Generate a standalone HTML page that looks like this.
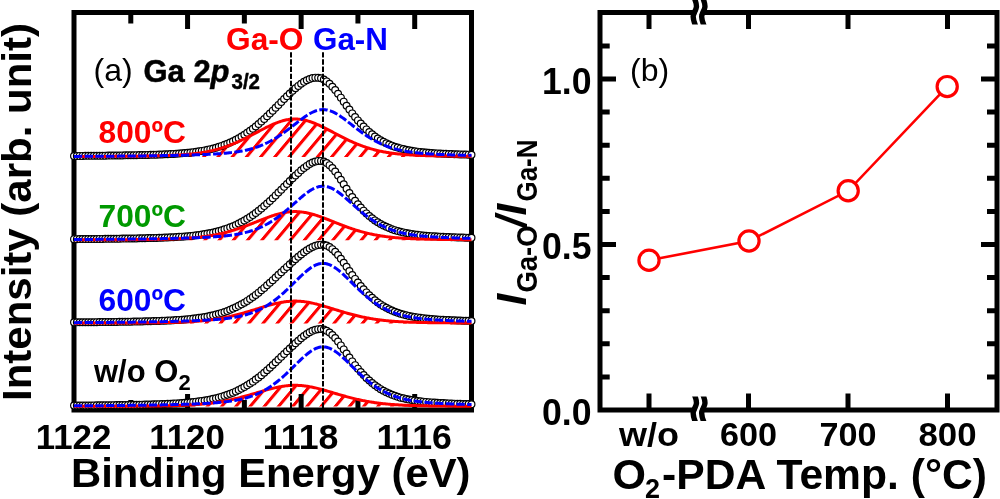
<!DOCTYPE html><html><head><meta charset="utf-8"><style>html,body{margin:0;padding:0;background:#fff;width:1000px;height:499px;overflow:hidden}svg{display:block;will-change:transform}text{font-family:"Liberation Sans",sans-serif}</style></head><body>
<svg width="1000" height="499" viewBox="0 0 1000 499">
<defs><pattern id="hatch" patternUnits="userSpaceOnUse" x="7" width="14.2" height="17" patternTransform="skewX(-40)"><rect x="0" y="0" width="4" height="17" fill="#ff0000"/></pattern></defs>
<rect width="1000" height="499" fill="#fff"/>
<path d="M74 157 L74 156.55 L74.99 156.55 L75.99 156.55 L76.98 156.54 L77.97 156.54 L78.97 156.54 L79.96 156.53 L80.96 156.53 L81.95 156.52 L82.94 156.52 L83.94 156.51 L84.93 156.51 L85.92 156.51 L86.92 156.5 L87.91 156.5 L88.91 156.49 L89.9 156.49 L90.89 156.48 L91.89 156.48 L92.88 156.47 L93.88 156.47 L94.87 156.46 L95.86 156.46 L96.86 156.45 L97.85 156.45 L98.84 156.44 L99.84 156.44 L100.83 156.43 L101.83 156.43 L102.82 156.42 L103.81 156.41 L104.81 156.41 L105.8 156.4 L106.79 156.4 L107.79 156.39 L108.78 156.38 L109.78 156.38 L110.77 156.37 L111.76 156.36 L112.76 156.36 L113.75 156.35 L114.74 156.34 L115.74 156.34 L116.73 156.33 L117.72 156.32 L118.72 156.32 L119.71 156.31 L120.71 156.3 L121.7 156.29 L122.69 156.28 L123.69 156.28 L124.68 156.27 L125.67 156.26 L126.67 156.25 L127.66 156.24 L128.66 156.23 L129.65 156.22 L130.64 156.21 L131.64 156.2 L132.63 156.19 L133.62 156.18 L134.62 156.17 L135.61 156.16 L136.61 156.15 L137.6 156.14 L138.59 156.13 L139.59 156.11 L140.58 156.1 L141.57 156.09 L142.57 156.08 L143.56 156.06 L144.56 156.05 L145.55 156.03 L146.54 156.02 L147.54 156 L148.53 155.99 L149.53 155.97 L150.52 155.95 L151.51 155.93 L152.51 155.91 L153.5 155.89 L154.49 155.87 L155.49 155.85 L156.48 155.83 L157.47 155.81 L158.47 155.78 L159.46 155.76 L160.46 155.73 L161.45 155.71 L162.44 155.68 L163.44 155.65 L164.43 155.62 L165.43 155.59 L166.42 155.55 L167.41 155.52 L168.41 155.48 L169.4 155.45 L170.39 155.41 L171.39 155.36 L172.38 155.32 L173.38 155.28 L174.37 155.23 L175.36 155.18 L176.36 155.13 L177.35 155.07 L178.34 155.01 L179.34 154.96 L180.33 154.89 L181.32 154.83 L182.32 154.76 L183.31 154.69 L184.31 154.61 L185.3 154.54 L186.29 154.46 L187.29 154.37 L188.28 154.28 L189.28 154.19 L190.27 154.09 L191.26 153.99 L192.26 153.89 L193.25 153.78 L194.24 153.66 L195.24 153.54 L196.23 153.42 L197.22 153.29 L198.22 153.15 L199.21 153.01 L200.21 152.87 L201.2 152.72 L202.19 152.56 L203.19 152.39 L204.18 152.22 L205.18 152.05 L206.17 151.86 L207.16 151.67 L208.16 151.48 L209.15 151.27 L210.14 151.06 L211.14 150.84 L212.13 150.61 L213.12 150.38 L214.12 150.14 L215.11 149.89 L216.11 149.63 L217.1 149.36 L218.09 149.09 L219.09 148.81 L220.08 148.52 L221.07 148.22 L222.07 147.91 L223.06 147.59 L224.06 147.27 L225.05 146.93 L226.04 146.59 L227.04 146.24 L228.03 145.88 L229.03 145.51 L230.02 145.13 L231.01 144.75 L232.01 144.35 L233 143.95 L233.99 143.54 L234.99 143.12 L235.98 142.7 L236.97 142.26 L237.97 141.82 L238.96 141.37 L239.96 140.92 L240.95 140.45 L241.94 139.98 L242.94 139.51 L243.93 139.02 L244.93 138.53 L245.92 138.04 L246.91 137.54 L247.91 137.04 L248.9 136.53 L249.89 136.02 L250.89 135.5 L251.88 134.98 L252.88 134.46 L253.87 133.94 L254.86 133.41 L255.86 132.89 L256.85 132.36 L257.84 131.84 L258.84 131.31 L259.83 130.79 L260.82 130.27 L261.82 129.75 L262.81 129.23 L263.81 128.72 L264.8 128.21 L265.79 127.71 L266.79 127.22 L267.78 126.73 L268.77 126.25 L269.77 125.78 L270.76 125.31 L271.76 124.86 L272.75 124.42 L273.74 123.99 L274.74 123.57 L275.73 123.17 L276.73 122.78 L277.72 122.41 L278.71 122.05 L279.71 121.7 L280.7 121.38 L281.69 121.07 L282.69 120.78 L283.68 120.52 L284.68 120.27 L285.67 120.04 L286.66 119.83 L287.66 119.65 L288.65 119.49 L289.64 119.35 L290.64 119.23 L291.63 119.14 L292.62 119.07 L293.62 119.02 L294.61 119 L295.61 119 L296.6 119.03 L297.59 119.08 L298.59 119.16 L299.58 119.25 L300.57 119.38 L301.57 119.52 L302.56 119.69 L303.56 119.88 L304.55 120.09 L305.54 120.32 L306.54 120.57 L307.53 120.85 L308.52 121.14 L309.52 121.45 L310.51 121.78 L311.51 122.12 L312.5 122.49 L313.49 122.86 L314.49 123.26 L315.48 123.66 L316.48 124.08 L317.47 124.52 L318.46 124.96 L319.46 125.41 L320.45 125.88 L321.44 126.35 L322.44 126.83 L323.43 127.32 L324.43 127.82 L325.42 128.32 L326.41 128.83 L327.41 129.34 L328.4 129.86 L329.39 130.38 L330.39 130.9 L331.38 131.43 L332.38 131.95 L333.37 132.48 L334.36 133 L335.36 133.53 L336.35 134.05 L337.34 134.58 L338.34 135.1 L339.33 135.62 L340.32 136.13 L341.32 136.64 L342.31 137.15 L343.31 137.65 L344.3 138.15 L345.29 138.64 L346.29 139.13 L347.28 139.61 L348.27 140.09 L349.27 140.55 L350.26 141.02 L351.26 141.47 L352.25 141.92 L353.24 142.36 L354.24 142.79 L355.23 143.22 L356.23 143.63 L357.22 144.04 L358.21 144.44 L359.21 144.83 L360.2 145.22 L361.19 145.59 L362.19 145.96 L363.18 146.32 L364.18 146.67 L365.17 147.01 L366.16 147.34 L367.16 147.66 L368.15 147.98 L369.14 148.28 L370.14 148.58 L371.13 148.87 L372.12 149.15 L373.12 149.42 L374.11 149.69 L375.11 149.94 L376.1 150.19 L377.09 150.43 L378.09 150.66 L379.08 150.89 L380.07 151.11 L381.07 151.32 L382.06 151.52 L383.06 151.72 L384.05 151.9 L385.04 152.09 L386.04 152.26 L387.03 152.43 L388.02 152.59 L389.02 152.75 L390.01 152.9 L391.01 153.05 L392 153.18 L392.99 153.32 L393.99 153.45 L394.98 153.57 L395.98 153.69 L396.97 153.8 L397.96 153.91 L398.96 154.01 L399.95 154.11 L400.94 154.21 L401.94 154.3 L402.93 154.39 L403.93 154.47 L404.92 154.55 L405.91 154.63 L406.91 154.7 L407.9 154.78 L408.89 154.84 L409.89 154.91 L410.88 154.97 L411.88 155.03 L412.87 155.08 L413.86 155.14 L414.86 155.19 L415.85 155.24 L416.84 155.29 L417.84 155.33 L418.83 155.37 L419.82 155.41 L420.82 155.45 L421.81 155.49 L422.81 155.53 L423.8 155.56 L424.79 155.59 L425.79 155.63 L426.78 155.66 L427.77 155.69 L428.77 155.71 L429.76 155.74 L430.76 155.77 L431.75 155.79 L432.74 155.81 L433.74 155.84 L434.73 155.86 L435.73 155.88 L436.72 155.9 L437.71 155.92 L438.71 155.94 L439.7 155.96 L440.69 155.97 L441.69 155.99 L442.68 156.01 L443.68 156.02 L444.67 156.04 L445.66 156.05 L446.66 156.06 L447.65 156.08 L448.64 156.09 L449.64 156.1 L450.63 156.12 L451.62 156.13 L452.62 156.14 L453.61 156.15 L454.61 156.16 L455.6 156.17 L456.59 156.18 L457.59 156.2 L458.58 156.21 L459.57 156.21 L460.57 156.22 L461.56 156.23 L462.56 156.24 L463.55 156.25 L464.54 156.26 L465.54 156.27 L466.53 156.28 L467.52 156.29 L468.52 156.29 L469.51 156.3 L470.51 156.31 L471.5 156.32 L471.5 157Z" fill="url(#hatch)"/>
<path d="M74 240.2 L74 239.86 L74.99 239.86 L75.99 239.86 L76.98 239.86 L77.97 239.85 L78.97 239.85 L79.96 239.85 L80.96 239.84 L81.95 239.84 L82.94 239.84 L83.94 239.83 L84.93 239.83 L85.92 239.83 L86.92 239.82 L87.91 239.82 L88.91 239.82 L89.9 239.81 L90.89 239.81 L91.89 239.81 L92.88 239.8 L93.88 239.8 L94.87 239.8 L95.86 239.79 L96.86 239.79 L97.85 239.78 L98.84 239.78 L99.84 239.78 L100.83 239.77 L101.83 239.77 L102.82 239.76 L103.81 239.76 L104.81 239.75 L105.8 239.75 L106.79 239.75 L107.79 239.74 L108.78 239.74 L109.78 239.73 L110.77 239.73 L111.76 239.72 L112.76 239.72 L113.75 239.71 L114.74 239.71 L115.74 239.7 L116.73 239.7 L117.72 239.69 L118.72 239.68 L119.71 239.68 L120.71 239.67 L121.7 239.67 L122.69 239.66 L123.69 239.65 L124.68 239.65 L125.67 239.64 L126.67 239.64 L127.66 239.63 L128.66 239.62 L129.65 239.61 L130.64 239.61 L131.64 239.6 L132.63 239.59 L133.62 239.58 L134.62 239.58 L135.61 239.57 L136.61 239.56 L137.6 239.55 L138.59 239.54 L139.59 239.53 L140.58 239.52 L141.57 239.51 L142.57 239.5 L143.56 239.49 L144.56 239.48 L145.55 239.47 L146.54 239.46 L147.54 239.45 L148.53 239.44 L149.53 239.42 L150.52 239.41 L151.51 239.4 L152.51 239.38 L153.5 239.37 L154.49 239.35 L155.49 239.34 L156.48 239.32 L157.47 239.3 L158.47 239.29 L159.46 239.27 L160.46 239.25 L161.45 239.23 L162.44 239.21 L163.44 239.18 L164.43 239.16 L165.43 239.14 L166.42 239.11 L167.41 239.09 L168.41 239.06 L169.4 239.03 L170.39 239 L171.39 238.97 L172.38 238.94 L173.38 238.9 L174.37 238.87 L175.36 238.83 L176.36 238.79 L177.35 238.75 L178.34 238.71 L179.34 238.66 L180.33 238.61 L181.32 238.57 L182.32 238.51 L183.31 238.46 L184.31 238.4 L185.3 238.35 L186.29 238.28 L187.29 238.22 L188.28 238.15 L189.28 238.08 L190.27 238.01 L191.26 237.94 L192.26 237.86 L193.25 237.77 L194.24 237.69 L195.24 237.6 L196.23 237.5 L197.22 237.41 L198.22 237.31 L199.21 237.2 L200.21 237.09 L201.2 236.98 L202.19 236.86 L203.19 236.73 L204.18 236.6 L205.18 236.47 L206.17 236.33 L207.16 236.19 L208.16 236.04 L209.15 235.89 L210.14 235.73 L211.14 235.56 L212.13 235.39 L213.12 235.22 L214.12 235.04 L215.11 234.85 L216.11 234.65 L217.1 234.45 L218.09 234.25 L219.09 234.03 L220.08 233.81 L221.07 233.59 L222.07 233.36 L223.06 233.12 L224.06 232.87 L225.05 232.62 L226.04 232.37 L227.04 232.1 L228.03 231.83 L229.03 231.55 L230.02 231.27 L231.01 230.98 L232.01 230.68 L233 230.38 L233.99 230.07 L234.99 229.76 L235.98 229.44 L236.97 229.11 L237.97 228.78 L238.96 228.44 L239.96 228.09 L240.95 227.75 L241.94 227.39 L242.94 227.03 L243.93 226.67 L244.93 226.3 L245.92 225.93 L246.91 225.55 L247.91 225.18 L248.9 224.79 L249.89 224.41 L250.89 224.02 L251.88 223.63 L252.88 223.24 L253.87 222.84 L254.86 222.45 L255.86 222.05 L256.85 221.66 L257.84 221.26 L258.84 220.87 L259.83 220.47 L260.82 220.08 L261.82 219.69 L262.81 219.3 L263.81 218.92 L264.8 218.53 L265.79 218.16 L266.79 217.78 L267.78 217.42 L268.77 217.05 L269.77 216.7 L270.76 216.35 L271.76 216.01 L272.75 215.68 L273.74 215.36 L274.74 215.04 L275.73 214.74 L276.73 214.44 L277.72 214.16 L278.71 213.89 L279.71 213.64 L280.7 213.39 L281.69 213.16 L282.69 212.94 L283.68 212.74 L284.68 212.55 L285.67 212.38 L286.66 212.23 L287.66 212.09 L288.65 211.97 L289.64 211.86 L290.64 211.77 L291.63 211.7 L292.62 211.65 L293.62 211.62 L294.61 211.6 L295.61 211.6 L296.6 211.62 L297.59 211.66 L298.59 211.72 L299.58 211.79 L300.57 211.88 L301.57 211.99 L302.56 212.12 L303.56 212.26 L304.55 212.42 L305.54 212.59 L306.54 212.78 L307.53 212.99 L308.52 213.21 L309.52 213.44 L310.51 213.69 L311.51 213.95 L312.5 214.22 L313.49 214.51 L314.49 214.8 L315.48 215.11 L316.48 215.43 L317.47 215.75 L318.46 216.09 L319.46 216.43 L320.45 216.78 L321.44 217.13 L322.44 217.5 L323.43 217.87 L324.43 218.24 L325.42 218.62 L326.41 219 L327.41 219.39 L328.4 219.77 L329.39 220.17 L330.39 220.56 L331.38 220.95 L332.38 221.35 L333.37 221.74 L334.36 222.14 L335.36 222.54 L336.35 222.93 L337.34 223.32 L338.34 223.72 L339.33 224.11 L340.32 224.49 L341.32 224.88 L342.31 225.26 L343.31 225.64 L344.3 226.01 L345.29 226.38 L346.29 226.75 L347.28 227.11 L348.27 227.47 L349.27 227.82 L350.26 228.17 L351.26 228.51 L352.25 228.85 L353.24 229.18 L354.24 229.51 L355.23 229.83 L356.23 230.14 L357.22 230.45 L358.21 230.75 L359.21 231.04 L360.2 231.33 L361.19 231.61 L362.19 231.89 L363.18 232.16 L364.18 232.42 L365.17 232.68 L366.16 232.93 L367.16 233.17 L368.15 233.41 L369.14 233.64 L370.14 233.86 L371.13 234.08 L372.12 234.29 L373.12 234.5 L374.11 234.7 L375.11 234.89 L376.1 235.08 L377.09 235.26 L378.09 235.43 L379.08 235.6 L380.07 235.76 L381.07 235.92 L382.06 236.08 L383.06 236.22 L384.05 236.36 L385.04 236.5 L386.04 236.63 L387.03 236.76 L388.02 236.88 L389.02 237 L390.01 237.11 L391.01 237.22 L392 237.33 L392.99 237.43 L393.99 237.53 L394.98 237.62 L395.98 237.71 L396.97 237.79 L397.96 237.87 L398.96 237.95 L399.95 238.03 L400.94 238.1 L401.94 238.17 L402.93 238.24 L403.93 238.3 L404.92 238.36 L405.91 238.42 L406.91 238.47 L407.9 238.53 L408.89 238.58 L409.89 238.62 L410.88 238.67 L411.88 238.72 L412.87 238.76 L413.86 238.8 L414.86 238.84 L415.85 238.87 L416.84 238.91 L417.84 238.94 L418.83 238.98 L419.82 239.01 L420.82 239.04 L421.81 239.06 L422.81 239.09 L423.8 239.12 L424.79 239.14 L425.79 239.17 L426.78 239.19 L427.77 239.21 L428.77 239.23 L429.76 239.25 L430.76 239.27 L431.75 239.29 L432.74 239.31 L433.74 239.32 L434.73 239.34 L435.73 239.36 L436.72 239.37 L437.71 239.39 L438.71 239.4 L439.7 239.41 L440.69 239.43 L441.69 239.44 L442.68 239.45 L443.68 239.46 L444.67 239.47 L445.66 239.49 L446.66 239.5 L447.65 239.51 L448.64 239.52 L449.64 239.53 L450.63 239.54 L451.62 239.54 L452.62 239.55 L453.61 239.56 L454.61 239.57 L455.6 239.58 L456.59 239.59 L457.59 239.59 L458.58 239.6 L459.57 239.61 L460.57 239.62 L461.56 239.62 L462.56 239.63 L463.55 239.64 L464.54 239.64 L465.54 239.65 L466.53 239.66 L467.52 239.66 L468.52 239.67 L469.51 239.67 L470.51 239.68 L471.5 239.69 L471.5 240.2Z" fill="url(#hatch)"/>
<path d="M74 323.4 L74 323.14 L74.99 323.14 L75.99 323.13 L76.98 323.13 L77.97 323.13 L78.97 323.13 L79.96 323.12 L80.96 323.12 L81.95 323.12 L82.94 323.12 L83.94 323.11 L84.93 323.11 L85.92 323.11 L86.92 323.11 L87.91 323.1 L88.91 323.1 L89.9 323.1 L90.89 323.1 L91.89 323.09 L92.88 323.09 L93.88 323.09 L94.87 323.08 L95.86 323.08 L96.86 323.08 L97.85 323.08 L98.84 323.07 L99.84 323.07 L100.83 323.07 L101.83 323.06 L102.82 323.06 L103.81 323.06 L104.81 323.05 L105.8 323.05 L106.79 323.05 L107.79 323.04 L108.78 323.04 L109.78 323.03 L110.77 323.03 L111.76 323.03 L112.76 323.02 L113.75 323.02 L114.74 323.01 L115.74 323.01 L116.73 323.01 L117.72 323 L118.72 323 L119.71 322.99 L120.71 322.99 L121.7 322.98 L122.69 322.98 L123.69 322.97 L124.68 322.97 L125.67 322.96 L126.67 322.96 L127.66 322.95 L128.66 322.95 L129.65 322.94 L130.64 322.94 L131.64 322.93 L132.63 322.93 L133.62 322.92 L134.62 322.91 L135.61 322.91 L136.61 322.9 L137.6 322.89 L138.59 322.89 L139.59 322.88 L140.58 322.87 L141.57 322.87 L142.57 322.86 L143.56 322.85 L144.56 322.84 L145.55 322.83 L146.54 322.82 L147.54 322.81 L148.53 322.8 L149.53 322.79 L150.52 322.78 L151.51 322.77 L152.51 322.76 L153.5 322.75 L154.49 322.74 L155.49 322.73 L156.48 322.71 L157.47 322.7 L158.47 322.69 L159.46 322.67 L160.46 322.66 L161.45 322.64 L162.44 322.62 L163.44 322.61 L164.43 322.59 L165.43 322.57 L166.42 322.55 L167.41 322.53 L168.41 322.51 L169.4 322.49 L170.39 322.46 L171.39 322.44 L172.38 322.41 L173.38 322.39 L174.37 322.36 L175.36 322.33 L176.36 322.3 L177.35 322.27 L178.34 322.23 L179.34 322.2 L180.33 322.16 L181.32 322.13 L182.32 322.09 L183.31 322.04 L184.31 322 L185.3 321.95 L186.29 321.91 L187.29 321.86 L188.28 321.8 L189.28 321.75 L190.27 321.69 L191.26 321.63 L192.26 321.57 L193.25 321.51 L194.24 321.44 L195.24 321.37 L196.23 321.3 L197.22 321.22 L198.22 321.14 L199.21 321.06 L200.21 320.97 L201.2 320.89 L202.19 320.79 L203.19 320.7 L204.18 320.6 L205.18 320.49 L206.17 320.39 L207.16 320.27 L208.16 320.16 L209.15 320.04 L210.14 319.91 L211.14 319.79 L212.13 319.65 L213.12 319.51 L214.12 319.37 L215.11 319.23 L216.11 319.07 L217.1 318.92 L218.09 318.76 L219.09 318.59 L220.08 318.42 L221.07 318.25 L222.07 318.06 L223.06 317.88 L224.06 317.69 L225.05 317.49 L226.04 317.29 L227.04 317.08 L228.03 316.87 L229.03 316.66 L230.02 316.44 L231.01 316.21 L232.01 315.98 L233 315.74 L233.99 315.5 L234.99 315.26 L235.98 315.01 L236.97 314.75 L237.97 314.49 L238.96 314.23 L239.96 313.96 L240.95 313.69 L241.94 313.41 L242.94 313.13 L243.93 312.85 L244.93 312.56 L245.92 312.27 L246.91 311.98 L247.91 311.69 L248.9 311.39 L249.89 311.09 L250.89 310.78 L251.88 310.48 L252.88 310.17 L253.87 309.87 L254.86 309.56 L255.86 309.25 L256.85 308.94 L257.84 308.63 L258.84 308.32 L259.83 308.02 L260.82 307.71 L261.82 307.41 L262.81 307.1 L263.81 306.8 L264.8 306.51 L265.79 306.21 L266.79 305.92 L267.78 305.64 L268.77 305.35 L269.77 305.08 L270.76 304.8 L271.76 304.54 L272.75 304.28 L273.74 304.03 L274.74 303.78 L275.73 303.55 L276.73 303.32 L277.72 303.1 L278.71 302.89 L279.71 302.69 L280.7 302.5 L281.69 302.32 L282.69 302.15 L283.68 301.99 L284.68 301.84 L285.67 301.71 L286.66 301.59 L287.66 301.48 L288.65 301.39 L289.64 301.3 L290.64 301.24 L291.63 301.18 L292.62 301.14 L293.62 301.11 L294.61 301.1 L295.61 301.1 L296.6 301.12 L297.59 301.15 L298.59 301.19 L299.58 301.25 L300.57 301.32 L301.57 301.41 L302.56 301.5 L303.56 301.61 L304.55 301.74 L305.54 301.87 L306.54 302.02 L307.53 302.18 L308.52 302.35 L309.52 302.54 L310.51 302.73 L311.51 302.93 L312.5 303.15 L313.49 303.37 L314.49 303.6 L315.48 303.84 L316.48 304.08 L317.47 304.34 L318.46 304.6 L319.46 304.86 L320.45 305.14 L321.44 305.41 L322.44 305.7 L323.43 305.99 L324.43 306.28 L325.42 306.57 L326.41 306.87 L327.41 307.17 L328.4 307.47 L329.39 307.78 L330.39 308.09 L331.38 308.39 L332.38 308.7 L333.37 309.01 L334.36 309.32 L335.36 309.63 L336.35 309.93 L337.34 310.24 L338.34 310.55 L339.33 310.85 L340.32 311.15 L341.32 311.45 L342.31 311.75 L343.31 312.05 L344.3 312.34 L345.29 312.63 L346.29 312.91 L347.28 313.2 L348.27 313.47 L349.27 313.75 L350.26 314.02 L351.26 314.29 L352.25 314.55 L353.24 314.81 L354.24 315.06 L355.23 315.31 L356.23 315.56 L357.22 315.8 L358.21 316.03 L359.21 316.26 L360.2 316.49 L361.19 316.71 L362.19 316.92 L363.18 317.13 L364.18 317.34 L365.17 317.54 L366.16 317.73 L367.16 317.92 L368.15 318.1 L369.14 318.28 L370.14 318.46 L371.13 318.63 L372.12 318.79 L373.12 318.95 L374.11 319.11 L375.11 319.26 L376.1 319.4 L377.09 319.55 L378.09 319.68 L379.08 319.81 L380.07 319.94 L381.07 320.06 L382.06 320.18 L383.06 320.3 L384.05 320.41 L385.04 320.52 L386.04 320.62 L387.03 320.72 L388.02 320.81 L389.02 320.91 L390.01 320.99 L391.01 321.08 L392 321.16 L392.99 321.24 L393.99 321.31 L394.98 321.39 L395.98 321.46 L396.97 321.52 L397.96 321.59 L398.96 321.65 L399.95 321.71 L400.94 321.76 L401.94 321.82 L402.93 321.87 L403.93 321.92 L404.92 321.96 L405.91 322.01 L406.91 322.05 L407.9 322.09 L408.89 322.13 L409.89 322.17 L410.88 322.21 L411.88 322.24 L412.87 322.28 L413.86 322.31 L414.86 322.34 L415.85 322.37 L416.84 322.39 L417.84 322.42 L418.83 322.45 L419.82 322.47 L420.82 322.49 L421.81 322.51 L422.81 322.54 L423.8 322.56 L424.79 322.58 L425.79 322.59 L426.78 322.61 L427.77 322.63 L428.77 322.64 L429.76 322.66 L430.76 322.68 L431.75 322.69 L432.74 322.7 L433.74 322.72 L434.73 322.73 L435.73 322.74 L436.72 322.75 L437.71 322.77 L438.71 322.78 L439.7 322.79 L440.69 322.8 L441.69 322.81 L442.68 322.82 L443.68 322.83 L444.67 322.83 L445.66 322.84 L446.66 322.85 L447.65 322.86 L448.64 322.87 L449.64 322.87 L450.63 322.88 L451.62 322.89 L452.62 322.9 L453.61 322.9 L454.61 322.91 L455.6 322.92 L456.59 322.92 L457.59 322.93 L458.58 322.93 L459.57 322.94 L460.57 322.94 L461.56 322.95 L462.56 322.96 L463.55 322.96 L464.54 322.97 L465.54 322.97 L466.53 322.98 L467.52 322.98 L468.52 322.99 L469.51 322.99 L470.51 322.99 L471.5 323 L471.5 323.4Z" fill="url(#hatch)"/>
<path d="M74 406.6 L74 406.35 L74.99 406.35 L75.99 406.35 L76.98 406.34 L77.97 406.34 L78.97 406.34 L79.96 406.34 L80.96 406.33 L81.95 406.33 L82.94 406.33 L83.94 406.33 L84.93 406.33 L85.92 406.32 L86.92 406.32 L87.91 406.32 L88.91 406.32 L89.9 406.31 L90.89 406.31 L91.89 406.31 L92.88 406.3 L93.88 406.3 L94.87 406.3 L95.86 406.3 L96.86 406.29 L97.85 406.29 L98.84 406.29 L99.84 406.28 L100.83 406.28 L101.83 406.28 L102.82 406.27 L103.81 406.27 L104.81 406.27 L105.8 406.26 L106.79 406.26 L107.79 406.26 L108.78 406.25 L109.78 406.25 L110.77 406.25 L111.76 406.24 L112.76 406.24 L113.75 406.24 L114.74 406.23 L115.74 406.23 L116.73 406.22 L117.72 406.22 L118.72 406.22 L119.71 406.21 L120.71 406.21 L121.7 406.2 L122.69 406.2 L123.69 406.19 L124.68 406.19 L125.67 406.18 L126.67 406.18 L127.66 406.17 L128.66 406.17 L129.65 406.16 L130.64 406.16 L131.64 406.15 L132.63 406.15 L133.62 406.14 L134.62 406.14 L135.61 406.13 L136.61 406.12 L137.6 406.12 L138.59 406.11 L139.59 406.1 L140.58 406.1 L141.57 406.09 L142.57 406.08 L143.56 406.07 L144.56 406.07 L145.55 406.06 L146.54 406.05 L147.54 406.04 L148.53 406.03 L149.53 406.02 L150.52 406.01 L151.51 406 L152.51 405.99 L153.5 405.98 L154.49 405.97 L155.49 405.96 L156.48 405.94 L157.47 405.93 L158.47 405.92 L159.46 405.91 L160.46 405.89 L161.45 405.88 L162.44 405.86 L163.44 405.84 L164.43 405.83 L165.43 405.81 L166.42 405.79 L167.41 405.77 L168.41 405.75 L169.4 405.73 L170.39 405.71 L171.39 405.68 L172.38 405.66 L173.38 405.63 L174.37 405.61 L175.36 405.58 L176.36 405.55 L177.35 405.52 L178.34 405.49 L179.34 405.45 L180.33 405.42 L181.32 405.38 L182.32 405.34 L183.31 405.3 L184.31 405.26 L185.3 405.22 L186.29 405.17 L187.29 405.13 L188.28 405.08 L189.28 405.02 L190.27 404.97 L191.26 404.91 L192.26 404.85 L193.25 404.79 L194.24 404.73 L195.24 404.66 L196.23 404.59 L197.22 404.52 L198.22 404.44 L199.21 404.37 L200.21 404.28 L201.2 404.2 L202.19 404.11 L203.19 404.02 L204.18 403.92 L205.18 403.82 L206.17 403.72 L207.16 403.61 L208.16 403.5 L209.15 403.39 L210.14 403.27 L211.14 403.15 L212.13 403.02 L213.12 402.89 L214.12 402.75 L215.11 402.61 L216.11 402.47 L217.1 402.32 L218.09 402.17 L219.09 402.01 L220.08 401.84 L221.07 401.68 L222.07 401.5 L223.06 401.33 L224.06 401.14 L225.05 400.96 L226.04 400.76 L227.04 400.57 L228.03 400.37 L229.03 400.16 L230.02 399.95 L231.01 399.73 L232.01 399.51 L233 399.29 L233.99 399.06 L234.99 398.82 L235.98 398.58 L236.97 398.34 L237.97 398.09 L238.96 397.84 L239.96 397.58 L240.95 397.32 L241.94 397.06 L242.94 396.79 L243.93 396.52 L244.93 396.25 L245.92 395.97 L246.91 395.69 L247.91 395.41 L248.9 395.13 L249.89 394.84 L250.89 394.55 L251.88 394.26 L252.88 393.97 L253.87 393.67 L254.86 393.38 L255.86 393.08 L256.85 392.79 L257.84 392.5 L258.84 392.2 L259.83 391.91 L260.82 391.61 L261.82 391.32 L262.81 391.03 L263.81 390.75 L264.8 390.46 L265.79 390.18 L266.79 389.91 L267.78 389.63 L268.77 389.36 L269.77 389.1 L270.76 388.84 L271.76 388.59 L272.75 388.34 L273.74 388.1 L274.74 387.86 L275.73 387.64 L276.73 387.42 L277.72 387.21 L278.71 387.01 L279.71 386.82 L280.7 386.63 L281.69 386.46 L282.69 386.3 L283.68 386.15 L284.68 386.01 L285.67 385.88 L286.66 385.77 L287.66 385.66 L288.65 385.57 L289.64 385.49 L290.64 385.43 L291.63 385.38 L292.62 385.34 L293.62 385.31 L294.61 385.3 L295.61 385.3 L296.6 385.32 L297.59 385.35 L298.59 385.39 L299.58 385.44 L300.57 385.51 L301.57 385.59 L302.56 385.69 L303.56 385.79 L304.55 385.91 L305.54 386.04 L306.54 386.18 L307.53 386.33 L308.52 386.5 L309.52 386.67 L310.51 386.86 L311.51 387.05 L312.5 387.25 L313.49 387.47 L314.49 387.69 L315.48 387.91 L316.48 388.15 L317.47 388.39 L318.46 388.64 L319.46 388.9 L320.45 389.16 L321.44 389.42 L322.44 389.69 L323.43 389.97 L324.43 390.24 L325.42 390.53 L326.41 390.81 L327.41 391.1 L328.4 391.39 L329.39 391.68 L330.39 391.97 L331.38 392.27 L332.38 392.56 L333.37 392.86 L334.36 393.15 L335.36 393.44 L336.35 393.74 L337.34 394.03 L338.34 394.32 L339.33 394.61 L340.32 394.9 L341.32 395.19 L342.31 395.47 L343.31 395.75 L344.3 396.03 L345.29 396.31 L346.29 396.58 L347.28 396.85 L348.27 397.12 L349.27 397.38 L350.26 397.64 L351.26 397.9 L352.25 398.15 L353.24 398.39 L354.24 398.64 L355.23 398.87 L356.23 399.11 L357.22 399.34 L358.21 399.56 L359.21 399.78 L360.2 400 L361.19 400.21 L362.19 400.41 L363.18 400.61 L364.18 400.81 L365.17 401 L366.16 401.18 L367.16 401.37 L368.15 401.54 L369.14 401.71 L370.14 401.88 L371.13 402.04 L372.12 402.2 L373.12 402.35 L374.11 402.5 L375.11 402.64 L376.1 402.78 L377.09 402.92 L378.09 403.05 L379.08 403.17 L380.07 403.3 L381.07 403.41 L382.06 403.53 L383.06 403.64 L384.05 403.74 L385.04 403.85 L386.04 403.94 L387.03 404.04 L388.02 404.13 L389.02 404.22 L390.01 404.3 L391.01 404.38 L392 404.46 L392.99 404.54 L393.99 404.61 L394.98 404.68 L395.98 404.74 L396.97 404.81 L397.96 404.87 L398.96 404.93 L399.95 404.98 L400.94 405.04 L401.94 405.09 L402.93 405.14 L403.93 405.18 L404.92 405.23 L405.91 405.27 L406.91 405.31 L407.9 405.35 L408.89 405.39 L409.89 405.43 L410.88 405.46 L411.88 405.49 L412.87 405.53 L413.86 405.56 L414.86 405.58 L415.85 405.61 L416.84 405.64 L417.84 405.66 L418.83 405.69 L419.82 405.71 L420.82 405.73 L421.81 405.75 L422.81 405.77 L423.8 405.79 L424.79 405.81 L425.79 405.83 L426.78 405.85 L427.77 405.86 L428.77 405.88 L429.76 405.89 L430.76 405.91 L431.75 405.92 L432.74 405.94 L433.74 405.95 L434.73 405.96 L435.73 405.97 L436.72 405.98 L437.71 405.99 L438.71 406 L439.7 406.01 L440.69 406.02 L441.69 406.03 L442.68 406.04 L443.68 406.05 L444.67 406.06 L445.66 406.07 L446.66 406.08 L447.65 406.08 L448.64 406.09 L449.64 406.1 L450.63 406.11 L451.62 406.11 L452.62 406.12 L453.61 406.12 L454.61 406.13 L455.6 406.14 L456.59 406.14 L457.59 406.15 L458.58 406.15 L459.57 406.16 L460.57 406.17 L461.56 406.17 L462.56 406.18 L463.55 406.18 L464.54 406.19 L465.54 406.19 L466.53 406.19 L467.52 406.2 L468.52 406.2 L469.51 406.21 L470.51 406.21 L471.5 406.22 L471.5 406.6Z" fill="url(#hatch)"/>
<g stroke="#000" stroke-width="5" fill="none" stroke-linecap="square">
<path d="M74 12.5H471.5V410H74Z"/>
</g>
<g stroke="#000" stroke-width="5">
<path d="M187.57 15V29M187.57 408V394"/>
<path d="M301.14 15V29M301.14 408V394"/>
<path d="M414.71 15V29M414.71 408V394"/>
<path d="M130.79 15V23.5M130.79 408V400"/>
<path d="M244.36 15V23.5M244.36 408V400"/>
<path d="M357.93 15V23.5M357.93 408V400"/>
</g>
<g fill="#fff" stroke="#000" stroke-width="1.2"><circle cx="74" cy="155.96" r="3.4"/><circle cx="76.84" cy="155.94" r="3.4"/><circle cx="79.68" cy="155.92" r="3.4"/><circle cx="82.52" cy="155.89" r="3.4"/><circle cx="85.36" cy="155.86" r="3.4"/><circle cx="88.2" cy="155.84" r="3.4"/><circle cx="91.04" cy="155.81" r="3.4"/><circle cx="93.88" cy="155.78" r="3.4"/><circle cx="96.71" cy="155.75" r="3.4"/><circle cx="99.55" cy="155.72" r="3.4"/><circle cx="102.39" cy="155.69" r="3.4"/><circle cx="105.23" cy="155.65" r="3.4"/><circle cx="108.07" cy="155.62" r="3.4"/><circle cx="110.91" cy="155.58" r="3.4"/><circle cx="113.75" cy="155.54" r="3.4"/><circle cx="116.59" cy="155.5" r="3.4"/><circle cx="119.43" cy="155.46" r="3.4"/><circle cx="122.27" cy="155.42" r="3.4"/><circle cx="125.11" cy="155.37" r="3.4"/><circle cx="127.95" cy="155.32" r="3.4"/><circle cx="130.79" cy="155.27" r="3.4"/><circle cx="133.62" cy="155.22" r="3.4"/><circle cx="136.46" cy="155.16" r="3.4"/><circle cx="139.3" cy="155.1" r="3.4"/><circle cx="142.14" cy="155.04" r="3.4"/><circle cx="144.98" cy="154.97" r="3.4"/><circle cx="147.82" cy="154.9" r="3.4"/><circle cx="150.66" cy="154.82" r="3.4"/><circle cx="153.5" cy="154.73" r="3.4"/><circle cx="156.34" cy="154.64" r="3.4"/><circle cx="159.18" cy="154.54" r="3.4"/><circle cx="162.02" cy="154.43" r="3.4"/><circle cx="164.86" cy="154.32" r="3.4"/><circle cx="167.7" cy="154.19" r="3.4"/><circle cx="170.54" cy="154.04" r="3.4"/><circle cx="173.38" cy="153.88" r="3.4"/><circle cx="176.21" cy="153.71" r="3.4"/><circle cx="179.05" cy="153.51" r="3.4"/><circle cx="181.89" cy="153.3" r="3.4"/><circle cx="184.73" cy="153.06" r="3.4"/><circle cx="187.57" cy="152.79" r="3.4"/><circle cx="190.41" cy="152.49" r="3.4"/><circle cx="193.25" cy="152.15" r="3.4"/><circle cx="196.09" cy="151.78" r="3.4"/><circle cx="198.93" cy="151.36" r="3.4"/><circle cx="201.77" cy="150.89" r="3.4"/><circle cx="204.61" cy="150.38" r="3.4"/><circle cx="207.45" cy="149.8" r="3.4"/><circle cx="210.29" cy="149.17" r="3.4"/><circle cx="213.12" cy="148.46" r="3.4"/><circle cx="215.96" cy="147.69" r="3.4"/><circle cx="218.8" cy="146.83" r="3.4"/><circle cx="221.64" cy="145.89" r="3.4"/><circle cx="224.48" cy="144.86" r="3.4"/><circle cx="227.32" cy="143.74" r="3.4"/><circle cx="230.16" cy="142.52" r="3.4"/><circle cx="233" cy="141.19" r="3.4"/><circle cx="235.84" cy="139.76" r="3.4"/><circle cx="238.68" cy="138.21" r="3.4"/><circle cx="241.52" cy="136.55" r="3.4"/><circle cx="244.36" cy="134.77" r="3.4"/><circle cx="247.2" cy="132.86" r="3.4"/><circle cx="250.04" cy="130.84" r="3.4"/><circle cx="252.88" cy="128.69" r="3.4"/><circle cx="255.71" cy="126.43" r="3.4"/><circle cx="258.55" cy="124.04" r="3.4"/><circle cx="261.39" cy="121.55" r="3.4"/><circle cx="264.23" cy="118.95" r="3.4"/><circle cx="267.07" cy="116.26" r="3.4"/><circle cx="269.91" cy="113.49" r="3.4"/><circle cx="272.75" cy="110.66" r="3.4"/><circle cx="275.59" cy="107.78" r="3.4"/><circle cx="278.43" cy="104.88" r="3.4"/><circle cx="281.27" cy="101.98" r="3.4"/><circle cx="284.11" cy="99.09" r="3.4"/><circle cx="286.95" cy="96.24" r="3.4"/><circle cx="289.79" cy="93.47" r="3.4"/><circle cx="292.62" cy="90.81" r="3.4"/><circle cx="295.46" cy="88.27" r="3.4"/><circle cx="298.3" cy="85.91" r="3.4"/><circle cx="301.14" cy="83.75" r="3.4"/><circle cx="303.98" cy="81.85" r="3.4"/><circle cx="306.82" cy="80.23" r="3.4"/><circle cx="309.66" cy="78.96" r="3.4"/><circle cx="312.5" cy="78.08" r="3.4"/><circle cx="315.34" cy="77.65" r="3.4"/><circle cx="318.18" cy="77.72" r="3.4"/><circle cx="321.02" cy="78.34" r="3.4"/><circle cx="323.86" cy="79.56" r="3.4"/><circle cx="326.7" cy="81.38" r="3.4"/><circle cx="329.54" cy="83.78" r="3.4"/><circle cx="332.38" cy="86.71" r="3.4"/><circle cx="335.21" cy="90.07" r="3.4"/><circle cx="338.05" cy="93.75" r="3.4"/><circle cx="340.89" cy="97.65" r="3.4"/><circle cx="343.73" cy="101.66" r="3.4"/><circle cx="346.57" cy="105.68" r="3.4"/><circle cx="349.41" cy="109.62" r="3.4"/><circle cx="352.25" cy="113.42" r="3.4"/><circle cx="355.09" cy="117.02" r="3.4"/><circle cx="357.93" cy="120.42" r="3.4"/><circle cx="360.77" cy="123.62" r="3.4"/><circle cx="363.61" cy="126.62" r="3.4"/><circle cx="366.45" cy="129.4" r="3.4"/><circle cx="369.29" cy="131.96" r="3.4"/><circle cx="372.12" cy="134.32" r="3.4"/><circle cx="374.96" cy="136.47" r="3.4"/><circle cx="377.8" cy="138.43" r="3.4"/><circle cx="380.64" cy="140.2" r="3.4"/><circle cx="383.48" cy="141.8" r="3.4"/><circle cx="386.32" cy="143.24" r="3.4"/><circle cx="389.16" cy="144.52" r="3.4"/><circle cx="392" cy="145.67" r="3.4"/><circle cx="394.84" cy="146.69" r="3.4"/><circle cx="397.68" cy="147.6" r="3.4"/><circle cx="400.52" cy="148.41" r="3.4"/><circle cx="403.36" cy="149.12" r="3.4"/><circle cx="406.2" cy="149.75" r="3.4"/><circle cx="409.04" cy="150.31" r="3.4"/><circle cx="411.88" cy="150.81" r="3.4"/><circle cx="414.71" cy="151.25" r="3.4"/><circle cx="417.55" cy="151.63" r="3.4"/><circle cx="420.39" cy="151.98" r="3.4"/><circle cx="423.23" cy="152.29" r="3.4"/><circle cx="426.07" cy="152.56" r="3.4"/><circle cx="428.91" cy="152.8" r="3.4"/><circle cx="431.75" cy="153.02" r="3.4"/><circle cx="434.59" cy="153.22" r="3.4"/><circle cx="437.43" cy="153.4" r="3.4"/><circle cx="440.27" cy="153.56" r="3.4"/><circle cx="443.11" cy="153.71" r="3.4"/><circle cx="445.95" cy="153.85" r="3.4"/><circle cx="448.79" cy="153.97" r="3.4"/><circle cx="451.62" cy="154.09" r="3.4"/><circle cx="454.46" cy="154.2" r="3.4"/><circle cx="457.3" cy="154.3" r="3.4"/><circle cx="460.14" cy="154.4" r="3.4"/><circle cx="462.98" cy="154.49" r="3.4"/><circle cx="465.82" cy="154.57" r="3.4"/><circle cx="468.66" cy="154.65" r="3.4"/><circle cx="471.5" cy="154.73" r="3.4"/></g>
<path d="M74 156.55 L74.99 156.55 L75.99 156.55 L76.98 156.54 L77.97 156.54 L78.97 156.54 L79.96 156.53 L80.96 156.53 L81.95 156.52 L82.94 156.52 L83.94 156.51 L84.93 156.51 L85.92 156.51 L86.92 156.5 L87.91 156.5 L88.91 156.49 L89.9 156.49 L90.89 156.48 L91.89 156.48 L92.88 156.47 L93.88 156.47 L94.87 156.46 L95.86 156.46 L96.86 156.45 L97.85 156.45 L98.84 156.44 L99.84 156.44 L100.83 156.43 L101.83 156.43 L102.82 156.42 L103.81 156.41 L104.81 156.41 L105.8 156.4 L106.79 156.4 L107.79 156.39 L108.78 156.38 L109.78 156.38 L110.77 156.37 L111.76 156.36 L112.76 156.36 L113.75 156.35 L114.74 156.34 L115.74 156.34 L116.73 156.33 L117.72 156.32 L118.72 156.32 L119.71 156.31 L120.71 156.3 L121.7 156.29 L122.69 156.28 L123.69 156.28 L124.68 156.27 L125.67 156.26 L126.67 156.25 L127.66 156.24 L128.66 156.23 L129.65 156.22 L130.64 156.21 L131.64 156.2 L132.63 156.19 L133.62 156.18 L134.62 156.17 L135.61 156.16 L136.61 156.15 L137.6 156.14 L138.59 156.13 L139.59 156.11 L140.58 156.1 L141.57 156.09 L142.57 156.08 L143.56 156.06 L144.56 156.05 L145.55 156.03 L146.54 156.02 L147.54 156 L148.53 155.99 L149.53 155.97 L150.52 155.95 L151.51 155.93 L152.51 155.91 L153.5 155.89 L154.49 155.87 L155.49 155.85 L156.48 155.83 L157.47 155.81 L158.47 155.78 L159.46 155.76 L160.46 155.73 L161.45 155.71 L162.44 155.68 L163.44 155.65 L164.43 155.62 L165.43 155.59 L166.42 155.55 L167.41 155.52 L168.41 155.48 L169.4 155.45 L170.39 155.41 L171.39 155.36 L172.38 155.32 L173.38 155.28 L174.37 155.23 L175.36 155.18 L176.36 155.13 L177.35 155.07 L178.34 155.01 L179.34 154.96 L180.33 154.89 L181.32 154.83 L182.32 154.76 L183.31 154.69 L184.31 154.61 L185.3 154.54 L186.29 154.46 L187.29 154.37 L188.28 154.28 L189.28 154.19 L190.27 154.09 L191.26 153.99 L192.26 153.89 L193.25 153.78 L194.24 153.66 L195.24 153.54 L196.23 153.42 L197.22 153.29 L198.22 153.15 L199.21 153.01 L200.21 152.87 L201.2 152.72 L202.19 152.56 L203.19 152.39 L204.18 152.22 L205.18 152.05 L206.17 151.86 L207.16 151.67 L208.16 151.48 L209.15 151.27 L210.14 151.06 L211.14 150.84 L212.13 150.61 L213.12 150.38 L214.12 150.14 L215.11 149.89 L216.11 149.63 L217.1 149.36 L218.09 149.09 L219.09 148.81 L220.08 148.52 L221.07 148.22 L222.07 147.91 L223.06 147.59 L224.06 147.27 L225.05 146.93 L226.04 146.59 L227.04 146.24 L228.03 145.88 L229.03 145.51 L230.02 145.13 L231.01 144.75 L232.01 144.35 L233 143.95 L233.99 143.54 L234.99 143.12 L235.98 142.7 L236.97 142.26 L237.97 141.82 L238.96 141.37 L239.96 140.92 L240.95 140.45 L241.94 139.98 L242.94 139.51 L243.93 139.02 L244.93 138.53 L245.92 138.04 L246.91 137.54 L247.91 137.04 L248.9 136.53 L249.89 136.02 L250.89 135.5 L251.88 134.98 L252.88 134.46 L253.87 133.94 L254.86 133.41 L255.86 132.89 L256.85 132.36 L257.84 131.84 L258.84 131.31 L259.83 130.79 L260.82 130.27 L261.82 129.75 L262.81 129.23 L263.81 128.72 L264.8 128.21 L265.79 127.71 L266.79 127.22 L267.78 126.73 L268.77 126.25 L269.77 125.78 L270.76 125.31 L271.76 124.86 L272.75 124.42 L273.74 123.99 L274.74 123.57 L275.73 123.17 L276.73 122.78 L277.72 122.41 L278.71 122.05 L279.71 121.7 L280.7 121.38 L281.69 121.07 L282.69 120.78 L283.68 120.52 L284.68 120.27 L285.67 120.04 L286.66 119.83 L287.66 119.65 L288.65 119.49 L289.64 119.35 L290.64 119.23 L291.63 119.14 L292.62 119.07 L293.62 119.02 L294.61 119 L295.61 119 L296.6 119.03 L297.59 119.08 L298.59 119.16 L299.58 119.25 L300.57 119.38 L301.57 119.52 L302.56 119.69 L303.56 119.88 L304.55 120.09 L305.54 120.32 L306.54 120.57 L307.53 120.85 L308.52 121.14 L309.52 121.45 L310.51 121.78 L311.51 122.12 L312.5 122.49 L313.49 122.86 L314.49 123.26 L315.48 123.66 L316.48 124.08 L317.47 124.52 L318.46 124.96 L319.46 125.41 L320.45 125.88 L321.44 126.35 L322.44 126.83 L323.43 127.32 L324.43 127.82 L325.42 128.32 L326.41 128.83 L327.41 129.34 L328.4 129.86 L329.39 130.38 L330.39 130.9 L331.38 131.43 L332.38 131.95 L333.37 132.48 L334.36 133 L335.36 133.53 L336.35 134.05 L337.34 134.58 L338.34 135.1 L339.33 135.62 L340.32 136.13 L341.32 136.64 L342.31 137.15 L343.31 137.65 L344.3 138.15 L345.29 138.64 L346.29 139.13 L347.28 139.61 L348.27 140.09 L349.27 140.55 L350.26 141.02 L351.26 141.47 L352.25 141.92 L353.24 142.36 L354.24 142.79 L355.23 143.22 L356.23 143.63 L357.22 144.04 L358.21 144.44 L359.21 144.83 L360.2 145.22 L361.19 145.59 L362.19 145.96 L363.18 146.32 L364.18 146.67 L365.17 147.01 L366.16 147.34 L367.16 147.66 L368.15 147.98 L369.14 148.28 L370.14 148.58 L371.13 148.87 L372.12 149.15 L373.12 149.42 L374.11 149.69 L375.11 149.94 L376.1 150.19 L377.09 150.43 L378.09 150.66 L379.08 150.89 L380.07 151.11 L381.07 151.32 L382.06 151.52 L383.06 151.72 L384.05 151.9 L385.04 152.09 L386.04 152.26 L387.03 152.43 L388.02 152.59 L389.02 152.75 L390.01 152.9 L391.01 153.05 L392 153.18 L392.99 153.32 L393.99 153.45 L394.98 153.57 L395.98 153.69 L396.97 153.8 L397.96 153.91 L398.96 154.01 L399.95 154.11 L400.94 154.21 L401.94 154.3 L402.93 154.39 L403.93 154.47 L404.92 154.55 L405.91 154.63 L406.91 154.7 L407.9 154.78 L408.89 154.84 L409.89 154.91 L410.88 154.97 L411.88 155.03 L412.87 155.08 L413.86 155.14 L414.86 155.19 L415.85 155.24 L416.84 155.29 L417.84 155.33 L418.83 155.37 L419.82 155.41 L420.82 155.45 L421.81 155.49 L422.81 155.53 L423.8 155.56 L424.79 155.59 L425.79 155.63 L426.78 155.66 L427.77 155.69 L428.77 155.71 L429.76 155.74 L430.76 155.77 L431.75 155.79 L432.74 155.81 L433.74 155.84 L434.73 155.86 L435.73 155.88 L436.72 155.9 L437.71 155.92 L438.71 155.94 L439.7 155.96 L440.69 155.97 L441.69 155.99 L442.68 156.01 L443.68 156.02 L444.67 156.04 L445.66 156.05 L446.66 156.06 L447.65 156.08 L448.64 156.09 L449.64 156.1 L450.63 156.12 L451.62 156.13 L452.62 156.14 L453.61 156.15 L454.61 156.16 L455.6 156.17 L456.59 156.18 L457.59 156.2 L458.58 156.21 L459.57 156.21 L460.57 156.22 L461.56 156.23 L462.56 156.24 L463.55 156.25 L464.54 156.26 L465.54 156.27 L466.53 156.28 L467.52 156.29 L468.52 156.29 L469.51 156.3 L470.51 156.31 L471.5 156.32" fill="none" stroke="#ff0000" stroke-width="3"/>
<path d="M74 156.4 L74.99 156.4 L75.99 156.39 L76.98 156.39 L77.97 156.38 L78.97 156.38 L79.96 156.37 L80.96 156.37 L81.95 156.36 L82.94 156.36 L83.94 156.35 L84.93 156.35 L85.92 156.34 L86.92 156.34 L87.91 156.33 L88.91 156.33 L89.9 156.32 L90.89 156.32 L91.89 156.31 L92.88 156.3 L93.88 156.3 L94.87 156.29 L95.86 156.29 L96.86 156.28 L97.85 156.27 L98.84 156.27 L99.84 156.26 L100.83 156.26 L101.83 156.25 L102.82 156.24 L103.81 156.24 L104.81 156.23 L105.8 156.22 L106.79 156.22 L107.79 156.21 L108.78 156.2 L109.78 156.19 L110.77 156.19 L111.76 156.18 L112.76 156.17 L113.75 156.16 L114.74 156.16 L115.74 156.15 L116.73 156.14 L117.72 156.13 L118.72 156.12 L119.71 156.12 L120.71 156.11 L121.7 156.1 L122.69 156.09 L123.69 156.08 L124.68 156.07 L125.67 156.06 L126.67 156.06 L127.66 156.05 L128.66 156.04 L129.65 156.03 L130.64 156.02 L131.64 156.01 L132.63 156 L133.62 155.99 L134.62 155.98 L135.61 155.97 L136.61 155.96 L137.6 155.95 L138.59 155.93 L139.59 155.92 L140.58 155.91 L141.57 155.9 L142.57 155.89 L143.56 155.88 L144.56 155.87 L145.55 155.85 L146.54 155.84 L147.54 155.83 L148.53 155.82 L149.53 155.8 L150.52 155.79 L151.51 155.78 L152.51 155.76 L153.5 155.75 L154.49 155.74 L155.49 155.72 L156.48 155.71 L157.47 155.69 L158.47 155.68 L159.46 155.66 L160.46 155.65 L161.45 155.63 L162.44 155.61 L163.44 155.6 L164.43 155.58 L165.43 155.56 L166.42 155.55 L167.41 155.53 L168.41 155.51 L169.4 155.49 L170.39 155.48 L171.39 155.46 L172.38 155.44 L173.38 155.42 L174.37 155.4 L175.36 155.38 L176.36 155.36 L177.35 155.34 L178.34 155.31 L179.34 155.29 L180.33 155.27 L181.32 155.25 L182.32 155.22 L183.31 155.2 L184.31 155.17 L185.3 155.15 L186.29 155.12 L187.29 155.1 L188.28 155.07 L189.28 155.04 L190.27 155.02 L191.26 154.99 L192.26 154.96 L193.25 154.93 L194.24 154.9 L195.24 154.86 L196.23 154.83 L197.22 154.8 L198.22 154.76 L199.21 154.73 L200.21 154.69 L201.2 154.65 L202.19 154.62 L203.19 154.58 L204.18 154.54 L205.18 154.49 L206.17 154.45 L207.16 154.4 L208.16 154.36 L209.15 154.31 L210.14 154.26 L211.14 154.21 L212.13 154.15 L213.12 154.1 L214.12 154.04 L215.11 153.98 L216.11 153.92 L217.1 153.86 L218.09 153.79 L219.09 153.72 L220.08 153.65 L221.07 153.57 L222.07 153.5 L223.06 153.41 L224.06 153.33 L225.05 153.24 L226.04 153.15 L227.04 153.05 L228.03 152.95 L229.03 152.85 L230.02 152.74 L231.01 152.62 L232.01 152.51 L233 152.38 L233.99 152.25 L234.99 152.12 L235.98 151.97 L236.97 151.83 L237.97 151.67 L238.96 151.51 L239.96 151.34 L240.95 151.17 L241.94 150.98 L242.94 150.79 L243.93 150.59 L244.93 150.38 L245.92 150.17 L246.91 149.94 L247.91 149.7 L248.9 149.46 L249.89 149.2 L250.89 148.93 L251.88 148.66 L252.88 148.37 L253.87 148.07 L254.86 147.75 L255.86 147.43 L256.85 147.09 L257.84 146.75 L258.84 146.38 L259.83 146.01 L260.82 145.62 L261.82 145.22 L262.81 144.81 L263.81 144.38 L264.8 143.93 L265.79 143.48 L266.79 143 L267.78 142.52 L268.77 142.02 L269.77 141.5 L270.76 140.97 L271.76 140.43 L272.75 139.87 L273.74 139.3 L274.74 138.71 L275.73 138.11 L276.73 137.49 L277.72 136.86 L278.71 136.22 L279.71 135.56 L280.7 134.89 L281.69 134.21 L282.69 133.52 L283.68 132.82 L284.68 132.1 L285.67 131.37 L286.66 130.64 L287.66 129.9 L288.65 129.14 L289.64 128.39 L290.64 127.62 L291.63 126.85 L292.62 126.08 L293.62 125.3 L294.61 124.52 L295.61 123.74 L296.6 122.97 L297.59 122.19 L298.59 121.42 L299.58 120.66 L300.57 119.91 L301.57 119.16 L302.56 118.43 L303.56 117.71 L304.55 117.01 L305.54 116.32 L306.54 115.66 L307.53 115.02 L308.52 114.4 L309.52 113.81 L310.51 113.25 L311.51 112.73 L312.5 112.23 L313.49 111.78 L314.49 111.36 L315.48 110.98 L316.48 110.65 L317.47 110.36 L318.46 110.11 L319.46 109.91 L320.45 109.76 L321.44 109.66 L322.44 109.61 L323.43 109.6 L324.43 109.65 L325.42 109.75 L326.41 109.89 L327.41 110.08 L328.4 110.32 L329.39 110.61 L330.39 110.94 L331.38 111.31 L332.38 111.72 L333.37 112.17 L334.36 112.66 L335.36 113.18 L336.35 113.74 L337.34 114.32 L338.34 114.93 L339.33 115.57 L340.32 116.23 L341.32 116.92 L342.31 117.62 L343.31 118.33 L344.3 119.06 L345.29 119.81 L346.29 120.56 L347.28 121.32 L348.27 122.09 L349.27 122.87 L350.26 123.64 L351.26 124.42 L352.25 125.2 L353.24 125.97 L354.24 126.75 L355.23 127.52 L356.23 128.28 L357.22 129.04 L358.21 129.8 L359.21 130.54 L360.2 131.28 L361.19 132.01 L362.19 132.72 L363.18 133.43 L364.18 134.12 L365.17 134.81 L366.16 135.48 L367.16 136.13 L368.15 136.78 L369.14 137.41 L370.14 138.03 L371.13 138.63 L372.12 139.22 L373.12 139.8 L374.11 140.36 L375.11 140.9 L376.1 141.43 L377.09 141.95 L378.09 142.45 L379.08 142.94 L380.07 143.41 L381.07 143.87 L382.06 144.32 L383.06 144.75 L384.05 145.17 L385.04 145.57 L386.04 145.96 L387.03 146.34 L388.02 146.7 L389.02 147.05 L390.01 147.39 L391.01 147.71 L392 148.03 L392.99 148.33 L393.99 148.62 L394.98 148.9 L395.98 149.16 L396.97 149.42 L397.96 149.67 L398.96 149.91 L399.95 150.14 L400.94 150.35 L401.94 150.56 L402.93 150.77 L403.93 150.96 L404.92 151.14 L405.91 151.32 L406.91 151.49 L407.9 151.65 L408.89 151.81 L409.89 151.96 L410.88 152.1 L411.88 152.23 L412.87 152.36 L413.86 152.49 L414.86 152.61 L415.85 152.72 L416.84 152.83 L417.84 152.94 L418.83 153.04 L419.82 153.14 L420.82 153.23 L421.81 153.32 L422.81 153.4 L423.8 153.49 L424.79 153.56 L425.79 153.64 L426.78 153.71 L427.77 153.78 L428.77 153.85 L429.76 153.91 L430.76 153.97 L431.75 154.03 L432.74 154.09 L433.74 154.15 L434.73 154.2 L435.73 154.25 L436.72 154.3 L437.71 154.35 L438.71 154.4 L439.7 154.44 L440.69 154.49 L441.69 154.53 L442.68 154.57 L443.68 154.61 L444.67 154.65 L445.66 154.69 L446.66 154.72 L447.65 154.76 L448.64 154.79 L449.64 154.83 L450.63 154.86 L451.62 154.89 L452.62 154.92 L453.61 154.95 L454.61 154.98 L455.6 155.01 L456.59 155.04 L457.59 155.07 L458.58 155.09 L459.57 155.12 L460.57 155.15 L461.56 155.17 L462.56 155.2 L463.55 155.22 L464.54 155.24 L465.54 155.27 L466.53 155.29 L467.52 155.31 L468.52 155.33 L469.51 155.35 L470.51 155.37 L471.5 155.4" fill="none" stroke="#0000ff" stroke-width="3" stroke-dasharray="8.3 2.4"/>
<g fill="#fff" stroke="#000" stroke-width="1.2"><circle cx="74" cy="239.17" r="3.4"/><circle cx="76.84" cy="239.14" r="3.4"/><circle cx="79.68" cy="239.12" r="3.4"/><circle cx="82.52" cy="239.09" r="3.4"/><circle cx="85.36" cy="239.07" r="3.4"/><circle cx="88.2" cy="239.04" r="3.4"/><circle cx="91.04" cy="239.01" r="3.4"/><circle cx="93.88" cy="238.98" r="3.4"/><circle cx="96.71" cy="238.95" r="3.4"/><circle cx="99.55" cy="238.92" r="3.4"/><circle cx="102.39" cy="238.89" r="3.4"/><circle cx="105.23" cy="238.86" r="3.4"/><circle cx="108.07" cy="238.82" r="3.4"/><circle cx="110.91" cy="238.79" r="3.4"/><circle cx="113.75" cy="238.75" r="3.4"/><circle cx="116.59" cy="238.71" r="3.4"/><circle cx="119.43" cy="238.67" r="3.4"/><circle cx="122.27" cy="238.62" r="3.4"/><circle cx="125.11" cy="238.58" r="3.4"/><circle cx="127.95" cy="238.53" r="3.4"/><circle cx="130.79" cy="238.48" r="3.4"/><circle cx="133.62" cy="238.43" r="3.4"/><circle cx="136.46" cy="238.38" r="3.4"/><circle cx="139.3" cy="238.32" r="3.4"/><circle cx="142.14" cy="238.26" r="3.4"/><circle cx="144.98" cy="238.19" r="3.4"/><circle cx="147.82" cy="238.12" r="3.4"/><circle cx="150.66" cy="238.05" r="3.4"/><circle cx="153.5" cy="237.97" r="3.4"/><circle cx="156.34" cy="237.88" r="3.4"/><circle cx="159.18" cy="237.79" r="3.4"/><circle cx="162.02" cy="237.68" r="3.4"/><circle cx="164.86" cy="237.57" r="3.4"/><circle cx="167.7" cy="237.45" r="3.4"/><circle cx="170.54" cy="237.32" r="3.4"/><circle cx="173.38" cy="237.18" r="3.4"/><circle cx="176.21" cy="237.02" r="3.4"/><circle cx="179.05" cy="236.85" r="3.4"/><circle cx="181.89" cy="236.65" r="3.4"/><circle cx="184.73" cy="236.44" r="3.4"/><circle cx="187.57" cy="236.2" r="3.4"/><circle cx="190.41" cy="235.94" r="3.4"/><circle cx="193.25" cy="235.64" r="3.4"/><circle cx="196.09" cy="235.32" r="3.4"/><circle cx="198.93" cy="234.96" r="3.4"/><circle cx="201.77" cy="234.55" r="3.4"/><circle cx="204.61" cy="234.11" r="3.4"/><circle cx="207.45" cy="233.61" r="3.4"/><circle cx="210.29" cy="233.07" r="3.4"/><circle cx="213.12" cy="232.46" r="3.4"/><circle cx="215.96" cy="231.8" r="3.4"/><circle cx="218.8" cy="231.06" r="3.4"/><circle cx="221.64" cy="230.26" r="3.4"/><circle cx="224.48" cy="229.37" r="3.4"/><circle cx="227.32" cy="228.4" r="3.4"/><circle cx="230.16" cy="227.35" r="3.4"/><circle cx="233" cy="226.19" r="3.4"/><circle cx="235.84" cy="224.94" r="3.4"/><circle cx="238.68" cy="223.59" r="3.4"/><circle cx="241.52" cy="222.12" r="3.4"/><circle cx="244.36" cy="220.54" r="3.4"/><circle cx="247.2" cy="218.85" r="3.4"/><circle cx="250.04" cy="217.03" r="3.4"/><circle cx="252.88" cy="215.1" r="3.4"/><circle cx="255.71" cy="213.03" r="3.4"/><circle cx="258.55" cy="210.85" r="3.4"/><circle cx="261.39" cy="208.54" r="3.4"/><circle cx="264.23" cy="206.12" r="3.4"/><circle cx="267.07" cy="203.58" r="3.4"/><circle cx="269.91" cy="200.94" r="3.4"/><circle cx="272.75" cy="198.21" r="3.4"/><circle cx="275.59" cy="195.42" r="3.4"/><circle cx="278.43" cy="192.59" r="3.4"/><circle cx="281.27" cy="189.73" r="3.4"/><circle cx="284.11" cy="186.85" r="3.4"/><circle cx="286.95" cy="183.97" r="3.4"/><circle cx="289.79" cy="181.11" r="3.4"/><circle cx="292.62" cy="178.29" r="3.4"/><circle cx="295.46" cy="175.54" r="3.4"/><circle cx="298.3" cy="172.89" r="3.4"/><circle cx="301.14" cy="170.37" r="3.4"/><circle cx="303.98" cy="168.03" r="3.4"/><circle cx="306.82" cy="165.9" r="3.4"/><circle cx="309.66" cy="164.06" r="3.4"/><circle cx="312.5" cy="162.56" r="3.4"/><circle cx="315.34" cy="161.48" r="3.4"/><circle cx="318.18" cy="160.9" r="3.4"/><circle cx="321.02" cy="160.9" r="3.4"/><circle cx="323.86" cy="161.57" r="3.4"/><circle cx="326.7" cy="162.98" r="3.4"/><circle cx="329.54" cy="165.15" r="3.4"/><circle cx="332.38" cy="168.05" r="3.4"/><circle cx="335.21" cy="171.56" r="3.4"/><circle cx="338.05" cy="175.55" r="3.4"/><circle cx="340.89" cy="179.84" r="3.4"/><circle cx="343.73" cy="184.27" r="3.4"/><circle cx="346.57" cy="188.7" r="3.4"/><circle cx="349.41" cy="192.99" r="3.4"/><circle cx="352.25" cy="197.05" r="3.4"/><circle cx="355.09" cy="200.83" r="3.4"/><circle cx="357.93" cy="204.33" r="3.4"/><circle cx="360.77" cy="207.6" r="3.4"/><circle cx="363.61" cy="210.63" r="3.4"/><circle cx="366.45" cy="213.41" r="3.4"/><circle cx="369.29" cy="215.96" r="3.4"/><circle cx="372.12" cy="218.28" r="3.4"/><circle cx="374.96" cy="220.38" r="3.4"/><circle cx="377.8" cy="222.27" r="3.4"/><circle cx="380.64" cy="223.98" r="3.4"/><circle cx="383.48" cy="225.51" r="3.4"/><circle cx="386.32" cy="226.87" r="3.4"/><circle cx="389.16" cy="228.09" r="3.4"/><circle cx="392" cy="229.18" r="3.4"/><circle cx="394.84" cy="230.14" r="3.4"/><circle cx="397.68" cy="230.99" r="3.4"/><circle cx="400.52" cy="231.75" r="3.4"/><circle cx="403.36" cy="232.42" r="3.4"/><circle cx="406.2" cy="233.02" r="3.4"/><circle cx="409.04" cy="233.55" r="3.4"/><circle cx="411.88" cy="234.02" r="3.4"/><circle cx="414.71" cy="234.43" r="3.4"/><circle cx="417.55" cy="234.8" r="3.4"/><circle cx="420.39" cy="235.13" r="3.4"/><circle cx="423.23" cy="235.43" r="3.4"/><circle cx="426.07" cy="235.69" r="3.4"/><circle cx="428.91" cy="235.93" r="3.4"/><circle cx="431.75" cy="236.14" r="3.4"/><circle cx="434.59" cy="236.33" r="3.4"/><circle cx="437.43" cy="236.51" r="3.4"/><circle cx="440.27" cy="236.67" r="3.4"/><circle cx="443.11" cy="236.81" r="3.4"/><circle cx="445.95" cy="236.95" r="3.4"/><circle cx="448.79" cy="237.08" r="3.4"/><circle cx="451.62" cy="237.19" r="3.4"/><circle cx="454.46" cy="237.3" r="3.4"/><circle cx="457.3" cy="237.4" r="3.4"/><circle cx="460.14" cy="237.5" r="3.4"/><circle cx="462.98" cy="237.59" r="3.4"/><circle cx="465.82" cy="237.67" r="3.4"/><circle cx="468.66" cy="237.75" r="3.4"/><circle cx="471.5" cy="237.83" r="3.4"/></g>
<path d="M74 239.86 L74.99 239.86 L75.99 239.86 L76.98 239.86 L77.97 239.85 L78.97 239.85 L79.96 239.85 L80.96 239.84 L81.95 239.84 L82.94 239.84 L83.94 239.83 L84.93 239.83 L85.92 239.83 L86.92 239.82 L87.91 239.82 L88.91 239.82 L89.9 239.81 L90.89 239.81 L91.89 239.81 L92.88 239.8 L93.88 239.8 L94.87 239.8 L95.86 239.79 L96.86 239.79 L97.85 239.78 L98.84 239.78 L99.84 239.78 L100.83 239.77 L101.83 239.77 L102.82 239.76 L103.81 239.76 L104.81 239.75 L105.8 239.75 L106.79 239.75 L107.79 239.74 L108.78 239.74 L109.78 239.73 L110.77 239.73 L111.76 239.72 L112.76 239.72 L113.75 239.71 L114.74 239.71 L115.74 239.7 L116.73 239.7 L117.72 239.69 L118.72 239.68 L119.71 239.68 L120.71 239.67 L121.7 239.67 L122.69 239.66 L123.69 239.65 L124.68 239.65 L125.67 239.64 L126.67 239.64 L127.66 239.63 L128.66 239.62 L129.65 239.61 L130.64 239.61 L131.64 239.6 L132.63 239.59 L133.62 239.58 L134.62 239.58 L135.61 239.57 L136.61 239.56 L137.6 239.55 L138.59 239.54 L139.59 239.53 L140.58 239.52 L141.57 239.51 L142.57 239.5 L143.56 239.49 L144.56 239.48 L145.55 239.47 L146.54 239.46 L147.54 239.45 L148.53 239.44 L149.53 239.42 L150.52 239.41 L151.51 239.4 L152.51 239.38 L153.5 239.37 L154.49 239.35 L155.49 239.34 L156.48 239.32 L157.47 239.3 L158.47 239.29 L159.46 239.27 L160.46 239.25 L161.45 239.23 L162.44 239.21 L163.44 239.18 L164.43 239.16 L165.43 239.14 L166.42 239.11 L167.41 239.09 L168.41 239.06 L169.4 239.03 L170.39 239 L171.39 238.97 L172.38 238.94 L173.38 238.9 L174.37 238.87 L175.36 238.83 L176.36 238.79 L177.35 238.75 L178.34 238.71 L179.34 238.66 L180.33 238.61 L181.32 238.57 L182.32 238.51 L183.31 238.46 L184.31 238.4 L185.3 238.35 L186.29 238.28 L187.29 238.22 L188.28 238.15 L189.28 238.08 L190.27 238.01 L191.26 237.94 L192.26 237.86 L193.25 237.77 L194.24 237.69 L195.24 237.6 L196.23 237.5 L197.22 237.41 L198.22 237.31 L199.21 237.2 L200.21 237.09 L201.2 236.98 L202.19 236.86 L203.19 236.73 L204.18 236.6 L205.18 236.47 L206.17 236.33 L207.16 236.19 L208.16 236.04 L209.15 235.89 L210.14 235.73 L211.14 235.56 L212.13 235.39 L213.12 235.22 L214.12 235.04 L215.11 234.85 L216.11 234.65 L217.1 234.45 L218.09 234.25 L219.09 234.03 L220.08 233.81 L221.07 233.59 L222.07 233.36 L223.06 233.12 L224.06 232.87 L225.05 232.62 L226.04 232.37 L227.04 232.1 L228.03 231.83 L229.03 231.55 L230.02 231.27 L231.01 230.98 L232.01 230.68 L233 230.38 L233.99 230.07 L234.99 229.76 L235.98 229.44 L236.97 229.11 L237.97 228.78 L238.96 228.44 L239.96 228.09 L240.95 227.75 L241.94 227.39 L242.94 227.03 L243.93 226.67 L244.93 226.3 L245.92 225.93 L246.91 225.55 L247.91 225.18 L248.9 224.79 L249.89 224.41 L250.89 224.02 L251.88 223.63 L252.88 223.24 L253.87 222.84 L254.86 222.45 L255.86 222.05 L256.85 221.66 L257.84 221.26 L258.84 220.87 L259.83 220.47 L260.82 220.08 L261.82 219.69 L262.81 219.3 L263.81 218.92 L264.8 218.53 L265.79 218.16 L266.79 217.78 L267.78 217.42 L268.77 217.05 L269.77 216.7 L270.76 216.35 L271.76 216.01 L272.75 215.68 L273.74 215.36 L274.74 215.04 L275.73 214.74 L276.73 214.44 L277.72 214.16 L278.71 213.89 L279.71 213.64 L280.7 213.39 L281.69 213.16 L282.69 212.94 L283.68 212.74 L284.68 212.55 L285.67 212.38 L286.66 212.23 L287.66 212.09 L288.65 211.97 L289.64 211.86 L290.64 211.77 L291.63 211.7 L292.62 211.65 L293.62 211.62 L294.61 211.6 L295.61 211.6 L296.6 211.62 L297.59 211.66 L298.59 211.72 L299.58 211.79 L300.57 211.88 L301.57 211.99 L302.56 212.12 L303.56 212.26 L304.55 212.42 L305.54 212.59 L306.54 212.78 L307.53 212.99 L308.52 213.21 L309.52 213.44 L310.51 213.69 L311.51 213.95 L312.5 214.22 L313.49 214.51 L314.49 214.8 L315.48 215.11 L316.48 215.43 L317.47 215.75 L318.46 216.09 L319.46 216.43 L320.45 216.78 L321.44 217.13 L322.44 217.5 L323.43 217.87 L324.43 218.24 L325.42 218.62 L326.41 219 L327.41 219.39 L328.4 219.77 L329.39 220.17 L330.39 220.56 L331.38 220.95 L332.38 221.35 L333.37 221.74 L334.36 222.14 L335.36 222.54 L336.35 222.93 L337.34 223.32 L338.34 223.72 L339.33 224.11 L340.32 224.49 L341.32 224.88 L342.31 225.26 L343.31 225.64 L344.3 226.01 L345.29 226.38 L346.29 226.75 L347.28 227.11 L348.27 227.47 L349.27 227.82 L350.26 228.17 L351.26 228.51 L352.25 228.85 L353.24 229.18 L354.24 229.51 L355.23 229.83 L356.23 230.14 L357.22 230.45 L358.21 230.75 L359.21 231.04 L360.2 231.33 L361.19 231.61 L362.19 231.89 L363.18 232.16 L364.18 232.42 L365.17 232.68 L366.16 232.93 L367.16 233.17 L368.15 233.41 L369.14 233.64 L370.14 233.86 L371.13 234.08 L372.12 234.29 L373.12 234.5 L374.11 234.7 L375.11 234.89 L376.1 235.08 L377.09 235.26 L378.09 235.43 L379.08 235.6 L380.07 235.76 L381.07 235.92 L382.06 236.08 L383.06 236.22 L384.05 236.36 L385.04 236.5 L386.04 236.63 L387.03 236.76 L388.02 236.88 L389.02 237 L390.01 237.11 L391.01 237.22 L392 237.33 L392.99 237.43 L393.99 237.53 L394.98 237.62 L395.98 237.71 L396.97 237.79 L397.96 237.87 L398.96 237.95 L399.95 238.03 L400.94 238.1 L401.94 238.17 L402.93 238.24 L403.93 238.3 L404.92 238.36 L405.91 238.42 L406.91 238.47 L407.9 238.53 L408.89 238.58 L409.89 238.62 L410.88 238.67 L411.88 238.72 L412.87 238.76 L413.86 238.8 L414.86 238.84 L415.85 238.87 L416.84 238.91 L417.84 238.94 L418.83 238.98 L419.82 239.01 L420.82 239.04 L421.81 239.06 L422.81 239.09 L423.8 239.12 L424.79 239.14 L425.79 239.17 L426.78 239.19 L427.77 239.21 L428.77 239.23 L429.76 239.25 L430.76 239.27 L431.75 239.29 L432.74 239.31 L433.74 239.32 L434.73 239.34 L435.73 239.36 L436.72 239.37 L437.71 239.39 L438.71 239.4 L439.7 239.41 L440.69 239.43 L441.69 239.44 L442.68 239.45 L443.68 239.46 L444.67 239.47 L445.66 239.49 L446.66 239.5 L447.65 239.51 L448.64 239.52 L449.64 239.53 L450.63 239.54 L451.62 239.54 L452.62 239.55 L453.61 239.56 L454.61 239.57 L455.6 239.58 L456.59 239.59 L457.59 239.59 L458.58 239.6 L459.57 239.61 L460.57 239.62 L461.56 239.62 L462.56 239.63 L463.55 239.64 L464.54 239.64 L465.54 239.65 L466.53 239.66 L467.52 239.66 L468.52 239.67 L469.51 239.67 L470.51 239.68 L471.5 239.69" fill="none" stroke="#ff0000" stroke-width="3"/>
<path d="M74 239.52 L74.99 239.52 L75.99 239.51 L76.98 239.5 L77.97 239.5 L78.97 239.49 L79.96 239.49 L80.96 239.48 L81.95 239.48 L82.94 239.47 L83.94 239.46 L84.93 239.46 L85.92 239.45 L86.92 239.45 L87.91 239.44 L88.91 239.43 L89.9 239.43 L90.89 239.42 L91.89 239.41 L92.88 239.41 L93.88 239.4 L94.87 239.39 L95.86 239.39 L96.86 239.38 L97.85 239.37 L98.84 239.37 L99.84 239.36 L100.83 239.35 L101.83 239.34 L102.82 239.34 L103.81 239.33 L104.81 239.32 L105.8 239.31 L106.79 239.31 L107.79 239.3 L108.78 239.29 L109.78 239.28 L110.77 239.27 L111.76 239.27 L112.76 239.26 L113.75 239.25 L114.74 239.24 L115.74 239.23 L116.73 239.22 L117.72 239.21 L118.72 239.2 L119.71 239.19 L120.71 239.18 L121.7 239.17 L122.69 239.16 L123.69 239.15 L124.68 239.14 L125.67 239.13 L126.67 239.12 L127.66 239.11 L128.66 239.1 L129.65 239.09 L130.64 239.08 L131.64 239.07 L132.63 239.06 L133.62 239.05 L134.62 239.04 L135.61 239.02 L136.61 239.01 L137.6 239 L138.59 238.99 L139.59 238.97 L140.58 238.96 L141.57 238.95 L142.57 238.94 L143.56 238.92 L144.56 238.91 L145.55 238.89 L146.54 238.88 L147.54 238.87 L148.53 238.85 L149.53 238.84 L150.52 238.82 L151.51 238.81 L152.51 238.79 L153.5 238.78 L154.49 238.76 L155.49 238.74 L156.48 238.73 L157.47 238.71 L158.47 238.69 L159.46 238.68 L160.46 238.66 L161.45 238.64 L162.44 238.62 L163.44 238.6 L164.43 238.58 L165.43 238.56 L166.42 238.55 L167.41 238.53 L168.41 238.5 L169.4 238.48 L170.39 238.46 L171.39 238.44 L172.38 238.42 L173.38 238.4 L174.37 238.37 L175.36 238.35 L176.36 238.33 L177.35 238.3 L178.34 238.28 L179.34 238.25 L180.33 238.23 L181.32 238.2 L182.32 238.18 L183.31 238.15 L184.31 238.12 L185.3 238.09 L186.29 238.06 L187.29 238.03 L188.28 238 L189.28 237.97 L190.27 237.94 L191.26 237.91 L192.26 237.87 L193.25 237.84 L194.24 237.8 L195.24 237.77 L196.23 237.73 L197.22 237.69 L198.22 237.65 L199.21 237.61 L200.21 237.57 L201.2 237.53 L202.19 237.48 L203.19 237.44 L204.18 237.39 L205.18 237.34 L206.17 237.29 L207.16 237.24 L208.16 237.19 L209.15 237.14 L210.14 237.08 L211.14 237.02 L212.13 236.96 L213.12 236.9 L214.12 236.83 L215.11 236.76 L216.11 236.69 L217.1 236.62 L218.09 236.54 L219.09 236.46 L220.08 236.38 L221.07 236.3 L222.07 236.21 L223.06 236.12 L224.06 236.02 L225.05 235.92 L226.04 235.81 L227.04 235.7 L228.03 235.59 L229.03 235.47 L230.02 235.35 L231.01 235.22 L232.01 235.08 L233 234.94 L233.99 234.79 L234.99 234.64 L235.98 234.47 L236.97 234.31 L237.97 234.13 L238.96 233.95 L239.96 233.75 L240.95 233.55 L241.94 233.34 L242.94 233.13 L243.93 232.9 L244.93 232.66 L245.92 232.41 L246.91 232.16 L247.91 231.89 L248.9 231.61 L249.89 231.31 L250.89 231.01 L251.88 230.69 L252.88 230.36 L253.87 230.02 L254.86 229.67 L255.86 229.3 L256.85 228.92 L257.84 228.52 L258.84 228.11 L259.83 227.68 L260.82 227.24 L261.82 226.78 L262.81 226.31 L263.81 225.82 L264.8 225.31 L265.79 224.79 L266.79 224.26 L267.78 223.7 L268.77 223.13 L269.77 222.54 L270.76 221.94 L271.76 221.32 L272.75 220.68 L273.74 220.03 L274.74 219.36 L275.73 218.68 L276.73 217.98 L277.72 217.26 L278.71 216.53 L279.71 215.78 L280.7 215.02 L281.69 214.24 L282.69 213.45 L283.68 212.65 L284.68 211.83 L285.67 211.01 L286.66 210.17 L287.66 209.32 L288.65 208.47 L289.64 207.6 L290.64 206.73 L291.63 205.85 L292.62 204.97 L293.62 204.09 L294.61 203.2 L295.61 202.31 L296.6 201.43 L297.59 200.55 L298.59 199.67 L299.58 198.8 L300.57 197.94 L301.57 197.09 L302.56 196.26 L303.56 195.44 L304.55 194.64 L305.54 193.86 L306.54 193.1 L307.53 192.37 L308.52 191.67 L309.52 191 L310.51 190.36 L311.51 189.76 L312.5 189.2 L313.49 188.68 L314.49 188.2 L315.48 187.77 L316.48 187.39 L317.47 187.06 L318.46 186.78 L319.46 186.56 L320.45 186.39 L321.44 186.27 L322.44 186.21 L323.43 186.21 L324.43 186.26 L325.42 186.37 L326.41 186.53 L327.41 186.75 L328.4 187.02 L329.39 187.35 L330.39 187.72 L331.38 188.14 L332.38 188.61 L333.37 189.13 L334.36 189.68 L335.36 190.28 L336.35 190.91 L337.34 191.58 L338.34 192.28 L339.33 193 L340.32 193.76 L341.32 194.53 L342.31 195.33 L343.31 196.15 L344.3 196.98 L345.29 197.83 L346.29 198.69 L347.28 199.56 L348.27 200.43 L349.27 201.31 L350.26 202.2 L351.26 203.08 L352.25 203.97 L353.24 204.85 L354.24 205.74 L355.23 206.61 L356.23 207.49 L357.22 208.35 L358.21 209.21 L359.21 210.06 L360.2 210.9 L361.19 211.72 L362.19 212.54 L363.18 213.35 L364.18 214.14 L365.17 214.92 L366.16 215.68 L367.16 216.43 L368.15 217.16 L369.14 217.88 L370.14 218.59 L371.13 219.27 L372.12 219.94 L373.12 220.6 L374.11 221.24 L375.11 221.86 L376.1 222.47 L377.09 223.06 L378.09 223.63 L379.08 224.18 L380.07 224.72 L381.07 225.25 L382.06 225.75 L383.06 226.24 L384.05 226.72 L385.04 227.18 L386.04 227.62 L387.03 228.05 L388.02 228.46 L389.02 228.86 L390.01 229.25 L391.01 229.62 L392 229.98 L392.99 230.32 L393.99 230.65 L394.98 230.97 L395.98 231.27 L396.97 231.57 L397.96 231.85 L398.96 232.12 L399.95 232.38 L400.94 232.63 L401.94 232.87 L402.93 233.1 L403.93 233.32 L404.92 233.53 L405.91 233.73 L406.91 233.92 L407.9 234.11 L408.89 234.28 L409.89 234.45 L410.88 234.62 L411.88 234.77 L412.87 234.92 L413.86 235.06 L414.86 235.2 L415.85 235.33 L416.84 235.45 L417.84 235.57 L418.83 235.69 L419.82 235.8 L420.82 235.9 L421.81 236.01 L422.81 236.1 L423.8 236.2 L424.79 236.29 L425.79 236.37 L426.78 236.45 L427.77 236.53 L428.77 236.61 L429.76 236.68 L430.76 236.75 L431.75 236.82 L432.74 236.89 L433.74 236.95 L434.73 237.01 L435.73 237.07 L436.72 237.13 L437.71 237.18 L438.71 237.24 L439.7 237.29 L440.69 237.34 L441.69 237.39 L442.68 237.43 L443.68 237.48 L444.67 237.52 L445.66 237.56 L446.66 237.61 L447.65 237.65 L448.64 237.69 L449.64 237.72 L450.63 237.76 L451.62 237.8 L452.62 237.83 L453.61 237.87 L454.61 237.9 L455.6 237.93 L456.59 237.97 L457.59 238 L458.58 238.03 L459.57 238.06 L460.57 238.09 L461.56 238.12 L462.56 238.14 L463.55 238.17 L464.54 238.2 L465.54 238.22 L466.53 238.25 L467.52 238.28 L468.52 238.3 L469.51 238.32 L470.51 238.35 L471.5 238.37" fill="none" stroke="#0000ff" stroke-width="3" stroke-dasharray="8.3 2.4"/>
<g fill="#fff" stroke="#000" stroke-width="1.2"><circle cx="74" cy="322.37" r="3.4"/><circle cx="76.84" cy="322.35" r="3.4"/><circle cx="79.68" cy="322.32" r="3.4"/><circle cx="82.52" cy="322.3" r="3.4"/><circle cx="85.36" cy="322.27" r="3.4"/><circle cx="88.2" cy="322.24" r="3.4"/><circle cx="91.04" cy="322.21" r="3.4"/><circle cx="93.88" cy="322.18" r="3.4"/><circle cx="96.71" cy="322.15" r="3.4"/><circle cx="99.55" cy="322.12" r="3.4"/><circle cx="102.39" cy="322.08" r="3.4"/><circle cx="105.23" cy="322.05" r="3.4"/><circle cx="108.07" cy="322.01" r="3.4"/><circle cx="110.91" cy="321.97" r="3.4"/><circle cx="113.75" cy="321.93" r="3.4"/><circle cx="116.59" cy="321.89" r="3.4"/><circle cx="119.43" cy="321.85" r="3.4"/><circle cx="122.27" cy="321.8" r="3.4"/><circle cx="125.11" cy="321.75" r="3.4"/><circle cx="127.95" cy="321.7" r="3.4"/><circle cx="130.79" cy="321.65" r="3.4"/><circle cx="133.62" cy="321.59" r="3.4"/><circle cx="136.46" cy="321.54" r="3.4"/><circle cx="139.3" cy="321.47" r="3.4"/><circle cx="142.14" cy="321.41" r="3.4"/><circle cx="144.98" cy="321.34" r="3.4"/><circle cx="147.82" cy="321.26" r="3.4"/><circle cx="150.66" cy="321.18" r="3.4"/><circle cx="153.5" cy="321.09" r="3.4"/><circle cx="156.34" cy="321" r="3.4"/><circle cx="159.18" cy="320.9" r="3.4"/><circle cx="162.02" cy="320.79" r="3.4"/><circle cx="164.86" cy="320.67" r="3.4"/><circle cx="167.7" cy="320.54" r="3.4"/><circle cx="170.54" cy="320.4" r="3.4"/><circle cx="173.38" cy="320.25" r="3.4"/><circle cx="176.21" cy="320.07" r="3.4"/><circle cx="179.05" cy="319.89" r="3.4"/><circle cx="181.89" cy="319.68" r="3.4"/><circle cx="184.73" cy="319.45" r="3.4"/><circle cx="187.57" cy="319.19" r="3.4"/><circle cx="190.41" cy="318.91" r="3.4"/><circle cx="193.25" cy="318.6" r="3.4"/><circle cx="196.09" cy="318.25" r="3.4"/><circle cx="198.93" cy="317.86" r="3.4"/><circle cx="201.77" cy="317.44" r="3.4"/><circle cx="204.61" cy="316.97" r="3.4"/><circle cx="207.45" cy="316.45" r="3.4"/><circle cx="210.29" cy="315.87" r="3.4"/><circle cx="213.12" cy="315.24" r="3.4"/><circle cx="215.96" cy="314.54" r="3.4"/><circle cx="218.8" cy="313.76" r="3.4"/><circle cx="221.64" cy="312.91" r="3.4"/><circle cx="224.48" cy="311.98" r="3.4"/><circle cx="227.32" cy="310.95" r="3.4"/><circle cx="230.16" cy="309.84" r="3.4"/><circle cx="233" cy="308.62" r="3.4"/><circle cx="235.84" cy="307.3" r="3.4"/><circle cx="238.68" cy="305.87" r="3.4"/><circle cx="241.52" cy="304.33" r="3.4"/><circle cx="244.36" cy="302.68" r="3.4"/><circle cx="247.2" cy="300.9" r="3.4"/><circle cx="250.04" cy="299.01" r="3.4"/><circle cx="252.88" cy="297.01" r="3.4"/><circle cx="255.71" cy="294.89" r="3.4"/><circle cx="258.55" cy="292.65" r="3.4"/><circle cx="261.39" cy="290.32" r="3.4"/><circle cx="264.23" cy="287.88" r="3.4"/><circle cx="267.07" cy="285.36" r="3.4"/><circle cx="269.91" cy="282.78" r="3.4"/><circle cx="272.75" cy="280.15" r="3.4"/><circle cx="275.59" cy="277.51" r="3.4"/><circle cx="278.43" cy="274.85" r="3.4"/><circle cx="281.27" cy="272.19" r="3.4"/><circle cx="284.11" cy="269.54" r="3.4"/><circle cx="286.95" cy="266.91" r="3.4"/><circle cx="289.79" cy="264.31" r="3.4"/><circle cx="292.62" cy="261.75" r="3.4"/><circle cx="295.46" cy="259.25" r="3.4"/><circle cx="298.3" cy="256.84" r="3.4"/><circle cx="301.14" cy="254.52" r="3.4"/><circle cx="303.98" cy="252.34" r="3.4"/><circle cx="306.82" cy="250.33" r="3.4"/><circle cx="309.66" cy="248.53" r="3.4"/><circle cx="312.5" cy="247" r="3.4"/><circle cx="315.34" cy="245.79" r="3.4"/><circle cx="318.18" cy="244.98" r="3.4"/><circle cx="321.02" cy="244.63" r="3.4"/><circle cx="323.86" cy="244.81" r="3.4"/><circle cx="326.7" cy="245.6" r="3.4"/><circle cx="329.54" cy="247.05" r="3.4"/><circle cx="332.38" cy="249.15" r="3.4"/><circle cx="335.21" cy="251.86" r="3.4"/><circle cx="338.05" cy="255.1" r="3.4"/><circle cx="340.89" cy="258.76" r="3.4"/><circle cx="343.73" cy="262.7" r="3.4"/><circle cx="346.57" cy="266.79" r="3.4"/><circle cx="349.41" cy="270.93" r="3.4"/><circle cx="352.25" cy="275" r="3.4"/><circle cx="355.09" cy="278.92" r="3.4"/><circle cx="357.93" cy="282.62" r="3.4"/><circle cx="360.77" cy="286.09" r="3.4"/><circle cx="363.61" cy="289.35" r="3.4"/><circle cx="366.45" cy="292.4" r="3.4"/><circle cx="369.29" cy="295.23" r="3.4"/><circle cx="372.12" cy="297.85" r="3.4"/><circle cx="374.96" cy="300.24" r="3.4"/><circle cx="377.8" cy="302.43" r="3.4"/><circle cx="380.64" cy="304.42" r="3.4"/><circle cx="383.48" cy="306.22" r="3.4"/><circle cx="386.32" cy="307.84" r="3.4"/><circle cx="389.16" cy="309.3" r="3.4"/><circle cx="392" cy="310.6" r="3.4"/><circle cx="394.84" cy="311.77" r="3.4"/><circle cx="397.68" cy="312.8" r="3.4"/><circle cx="400.52" cy="313.72" r="3.4"/><circle cx="403.36" cy="314.54" r="3.4"/><circle cx="406.2" cy="315.26" r="3.4"/><circle cx="409.04" cy="315.9" r="3.4"/><circle cx="411.88" cy="316.47" r="3.4"/><circle cx="414.71" cy="316.98" r="3.4"/><circle cx="417.55" cy="317.42" r="3.4"/><circle cx="420.39" cy="317.82" r="3.4"/><circle cx="423.23" cy="318.17" r="3.4"/><circle cx="426.07" cy="318.48" r="3.4"/><circle cx="428.91" cy="318.76" r="3.4"/><circle cx="431.75" cy="319.02" r="3.4"/><circle cx="434.59" cy="319.24" r="3.4"/><circle cx="437.43" cy="319.45" r="3.4"/><circle cx="440.27" cy="319.63" r="3.4"/><circle cx="443.11" cy="319.8" r="3.4"/><circle cx="445.95" cy="319.96" r="3.4"/><circle cx="448.79" cy="320.1" r="3.4"/><circle cx="451.62" cy="320.24" r="3.4"/><circle cx="454.46" cy="320.36" r="3.4"/><circle cx="457.3" cy="320.48" r="3.4"/><circle cx="460.14" cy="320.58" r="3.4"/><circle cx="462.98" cy="320.69" r="3.4"/><circle cx="465.82" cy="320.78" r="3.4"/><circle cx="468.66" cy="320.87" r="3.4"/><circle cx="471.5" cy="320.96" r="3.4"/></g>
<path d="M74 323.14 L74.99 323.14 L75.99 323.13 L76.98 323.13 L77.97 323.13 L78.97 323.13 L79.96 323.12 L80.96 323.12 L81.95 323.12 L82.94 323.12 L83.94 323.11 L84.93 323.11 L85.92 323.11 L86.92 323.11 L87.91 323.1 L88.91 323.1 L89.9 323.1 L90.89 323.1 L91.89 323.09 L92.88 323.09 L93.88 323.09 L94.87 323.08 L95.86 323.08 L96.86 323.08 L97.85 323.08 L98.84 323.07 L99.84 323.07 L100.83 323.07 L101.83 323.06 L102.82 323.06 L103.81 323.06 L104.81 323.05 L105.8 323.05 L106.79 323.05 L107.79 323.04 L108.78 323.04 L109.78 323.03 L110.77 323.03 L111.76 323.03 L112.76 323.02 L113.75 323.02 L114.74 323.01 L115.74 323.01 L116.73 323.01 L117.72 323 L118.72 323 L119.71 322.99 L120.71 322.99 L121.7 322.98 L122.69 322.98 L123.69 322.97 L124.68 322.97 L125.67 322.96 L126.67 322.96 L127.66 322.95 L128.66 322.95 L129.65 322.94 L130.64 322.94 L131.64 322.93 L132.63 322.93 L133.62 322.92 L134.62 322.91 L135.61 322.91 L136.61 322.9 L137.6 322.89 L138.59 322.89 L139.59 322.88 L140.58 322.87 L141.57 322.87 L142.57 322.86 L143.56 322.85 L144.56 322.84 L145.55 322.83 L146.54 322.82 L147.54 322.81 L148.53 322.8 L149.53 322.79 L150.52 322.78 L151.51 322.77 L152.51 322.76 L153.5 322.75 L154.49 322.74 L155.49 322.73 L156.48 322.71 L157.47 322.7 L158.47 322.69 L159.46 322.67 L160.46 322.66 L161.45 322.64 L162.44 322.62 L163.44 322.61 L164.43 322.59 L165.43 322.57 L166.42 322.55 L167.41 322.53 L168.41 322.51 L169.4 322.49 L170.39 322.46 L171.39 322.44 L172.38 322.41 L173.38 322.39 L174.37 322.36 L175.36 322.33 L176.36 322.3 L177.35 322.27 L178.34 322.23 L179.34 322.2 L180.33 322.16 L181.32 322.13 L182.32 322.09 L183.31 322.04 L184.31 322 L185.3 321.95 L186.29 321.91 L187.29 321.86 L188.28 321.8 L189.28 321.75 L190.27 321.69 L191.26 321.63 L192.26 321.57 L193.25 321.51 L194.24 321.44 L195.24 321.37 L196.23 321.3 L197.22 321.22 L198.22 321.14 L199.21 321.06 L200.21 320.97 L201.2 320.89 L202.19 320.79 L203.19 320.7 L204.18 320.6 L205.18 320.49 L206.17 320.39 L207.16 320.27 L208.16 320.16 L209.15 320.04 L210.14 319.91 L211.14 319.79 L212.13 319.65 L213.12 319.51 L214.12 319.37 L215.11 319.23 L216.11 319.07 L217.1 318.92 L218.09 318.76 L219.09 318.59 L220.08 318.42 L221.07 318.25 L222.07 318.06 L223.06 317.88 L224.06 317.69 L225.05 317.49 L226.04 317.29 L227.04 317.08 L228.03 316.87 L229.03 316.66 L230.02 316.44 L231.01 316.21 L232.01 315.98 L233 315.74 L233.99 315.5 L234.99 315.26 L235.98 315.01 L236.97 314.75 L237.97 314.49 L238.96 314.23 L239.96 313.96 L240.95 313.69 L241.94 313.41 L242.94 313.13 L243.93 312.85 L244.93 312.56 L245.92 312.27 L246.91 311.98 L247.91 311.69 L248.9 311.39 L249.89 311.09 L250.89 310.78 L251.88 310.48 L252.88 310.17 L253.87 309.87 L254.86 309.56 L255.86 309.25 L256.85 308.94 L257.84 308.63 L258.84 308.32 L259.83 308.02 L260.82 307.71 L261.82 307.41 L262.81 307.1 L263.81 306.8 L264.8 306.51 L265.79 306.21 L266.79 305.92 L267.78 305.64 L268.77 305.35 L269.77 305.08 L270.76 304.8 L271.76 304.54 L272.75 304.28 L273.74 304.03 L274.74 303.78 L275.73 303.55 L276.73 303.32 L277.72 303.1 L278.71 302.89 L279.71 302.69 L280.7 302.5 L281.69 302.32 L282.69 302.15 L283.68 301.99 L284.68 301.84 L285.67 301.71 L286.66 301.59 L287.66 301.48 L288.65 301.39 L289.64 301.3 L290.64 301.24 L291.63 301.18 L292.62 301.14 L293.62 301.11 L294.61 301.1 L295.61 301.1 L296.6 301.12 L297.59 301.15 L298.59 301.19 L299.58 301.25 L300.57 301.32 L301.57 301.41 L302.56 301.5 L303.56 301.61 L304.55 301.74 L305.54 301.87 L306.54 302.02 L307.53 302.18 L308.52 302.35 L309.52 302.54 L310.51 302.73 L311.51 302.93 L312.5 303.15 L313.49 303.37 L314.49 303.6 L315.48 303.84 L316.48 304.08 L317.47 304.34 L318.46 304.6 L319.46 304.86 L320.45 305.14 L321.44 305.41 L322.44 305.7 L323.43 305.99 L324.43 306.28 L325.42 306.57 L326.41 306.87 L327.41 307.17 L328.4 307.47 L329.39 307.78 L330.39 308.09 L331.38 308.39 L332.38 308.7 L333.37 309.01 L334.36 309.32 L335.36 309.63 L336.35 309.93 L337.34 310.24 L338.34 310.55 L339.33 310.85 L340.32 311.15 L341.32 311.45 L342.31 311.75 L343.31 312.05 L344.3 312.34 L345.29 312.63 L346.29 312.91 L347.28 313.2 L348.27 313.47 L349.27 313.75 L350.26 314.02 L351.26 314.29 L352.25 314.55 L353.24 314.81 L354.24 315.06 L355.23 315.31 L356.23 315.56 L357.22 315.8 L358.21 316.03 L359.21 316.26 L360.2 316.49 L361.19 316.71 L362.19 316.92 L363.18 317.13 L364.18 317.34 L365.17 317.54 L366.16 317.73 L367.16 317.92 L368.15 318.1 L369.14 318.28 L370.14 318.46 L371.13 318.63 L372.12 318.79 L373.12 318.95 L374.11 319.11 L375.11 319.26 L376.1 319.4 L377.09 319.55 L378.09 319.68 L379.08 319.81 L380.07 319.94 L381.07 320.06 L382.06 320.18 L383.06 320.3 L384.05 320.41 L385.04 320.52 L386.04 320.62 L387.03 320.72 L388.02 320.81 L389.02 320.91 L390.01 320.99 L391.01 321.08 L392 321.16 L392.99 321.24 L393.99 321.31 L394.98 321.39 L395.98 321.46 L396.97 321.52 L397.96 321.59 L398.96 321.65 L399.95 321.71 L400.94 321.76 L401.94 321.82 L402.93 321.87 L403.93 321.92 L404.92 321.96 L405.91 322.01 L406.91 322.05 L407.9 322.09 L408.89 322.13 L409.89 322.17 L410.88 322.21 L411.88 322.24 L412.87 322.28 L413.86 322.31 L414.86 322.34 L415.85 322.37 L416.84 322.39 L417.84 322.42 L418.83 322.45 L419.82 322.47 L420.82 322.49 L421.81 322.51 L422.81 322.54 L423.8 322.56 L424.79 322.58 L425.79 322.59 L426.78 322.61 L427.77 322.63 L428.77 322.64 L429.76 322.66 L430.76 322.68 L431.75 322.69 L432.74 322.7 L433.74 322.72 L434.73 322.73 L435.73 322.74 L436.72 322.75 L437.71 322.77 L438.71 322.78 L439.7 322.79 L440.69 322.8 L441.69 322.81 L442.68 322.82 L443.68 322.83 L444.67 322.83 L445.66 322.84 L446.66 322.85 L447.65 322.86 L448.64 322.87 L449.64 322.87 L450.63 322.88 L451.62 322.89 L452.62 322.9 L453.61 322.9 L454.61 322.91 L455.6 322.92 L456.59 322.92 L457.59 322.93 L458.58 322.93 L459.57 322.94 L460.57 322.94 L461.56 322.95 L462.56 322.96 L463.55 322.96 L464.54 322.97 L465.54 322.97 L466.53 322.98 L467.52 322.98 L468.52 322.99 L469.51 322.99 L470.51 322.99 L471.5 323" fill="none" stroke="#ff0000" stroke-width="3"/>
<path d="M74 322.65 L74.99 322.64 L75.99 322.63 L76.98 322.63 L77.97 322.62 L78.97 322.62 L79.96 322.61 L80.96 322.6 L81.95 322.6 L82.94 322.59 L83.94 322.58 L84.93 322.58 L85.92 322.57 L86.92 322.56 L87.91 322.56 L88.91 322.55 L89.9 322.54 L90.89 322.53 L91.89 322.53 L92.88 322.52 L93.88 322.51 L94.87 322.51 L95.86 322.5 L96.86 322.49 L97.85 322.48 L98.84 322.47 L99.84 322.47 L100.83 322.46 L101.83 322.45 L102.82 322.44 L103.81 322.43 L104.81 322.42 L105.8 322.42 L106.79 322.41 L107.79 322.4 L108.78 322.39 L109.78 322.38 L110.77 322.37 L111.76 322.36 L112.76 322.35 L113.75 322.34 L114.74 322.33 L115.74 322.32 L116.73 322.31 L117.72 322.3 L118.72 322.29 L119.71 322.28 L120.71 322.27 L121.7 322.26 L122.69 322.25 L123.69 322.24 L124.68 322.23 L125.67 322.22 L126.67 322.2 L127.66 322.19 L128.66 322.18 L129.65 322.17 L130.64 322.16 L131.64 322.14 L132.63 322.13 L133.62 322.12 L134.62 322.11 L135.61 322.09 L136.61 322.08 L137.6 322.07 L138.59 322.05 L139.59 322.04 L140.58 322.02 L141.57 322.01 L142.57 321.99 L143.56 321.98 L144.56 321.96 L145.55 321.95 L146.54 321.93 L147.54 321.92 L148.53 321.9 L149.53 321.89 L150.52 321.87 L151.51 321.85 L152.51 321.83 L153.5 321.82 L154.49 321.8 L155.49 321.78 L156.48 321.76 L157.47 321.74 L158.47 321.73 L159.46 321.71 L160.46 321.69 L161.45 321.67 L162.44 321.65 L163.44 321.63 L164.43 321.6 L165.43 321.58 L166.42 321.56 L167.41 321.54 L168.41 321.52 L169.4 321.49 L170.39 321.47 L171.39 321.45 L172.38 321.42 L173.38 321.4 L174.37 321.37 L175.36 321.35 L176.36 321.32 L177.35 321.29 L178.34 321.27 L179.34 321.24 L180.33 321.21 L181.32 321.18 L182.32 321.15 L183.31 321.12 L184.31 321.09 L185.3 321.06 L186.29 321.02 L187.29 320.99 L188.28 320.96 L189.28 320.92 L190.27 320.89 L191.26 320.85 L192.26 320.81 L193.25 320.78 L194.24 320.74 L195.24 320.7 L196.23 320.66 L197.22 320.61 L198.22 320.57 L199.21 320.52 L200.21 320.48 L201.2 320.43 L202.19 320.38 L203.19 320.33 L204.18 320.28 L205.18 320.23 L206.17 320.17 L207.16 320.11 L208.16 320.06 L209.15 319.99 L210.14 319.93 L211.14 319.87 L212.13 319.8 L213.12 319.73 L214.12 319.66 L215.11 319.58 L216.11 319.5 L217.1 319.42 L218.09 319.34 L219.09 319.25 L220.08 319.16 L221.07 319.06 L222.07 318.96 L223.06 318.86 L224.06 318.75 L225.05 318.64 L226.04 318.53 L227.04 318.4 L228.03 318.28 L229.03 318.14 L230.02 318.01 L231.01 317.86 L232.01 317.71 L233 317.55 L233.99 317.39 L234.99 317.22 L235.98 317.04 L236.97 316.85 L237.97 316.66 L238.96 316.45 L239.96 316.24 L240.95 316.02 L241.94 315.78 L242.94 315.54 L243.93 315.29 L244.93 315.02 L245.92 314.75 L246.91 314.46 L247.91 314.16 L248.9 313.85 L249.89 313.53 L250.89 313.19 L251.88 312.84 L252.88 312.47 L253.87 312.09 L254.86 311.7 L255.86 311.29 L256.85 310.86 L257.84 310.42 L258.84 309.96 L259.83 309.49 L260.82 309 L261.82 308.49 L262.81 307.96 L263.81 307.42 L264.8 306.86 L265.79 306.28 L266.79 305.68 L267.78 305.07 L268.77 304.44 L269.77 303.78 L270.76 303.11 L271.76 302.42 L272.75 301.72 L273.74 300.99 L274.74 300.25 L275.73 299.49 L276.73 298.71 L277.72 297.91 L278.71 297.1 L279.71 296.27 L280.7 295.42 L281.69 294.56 L282.69 293.68 L283.68 292.79 L284.68 291.88 L285.67 290.96 L286.66 290.03 L287.66 289.09 L288.65 288.14 L289.64 287.18 L290.64 286.21 L291.63 285.24 L292.62 284.26 L293.62 283.27 L294.61 282.29 L295.61 281.3 L296.6 280.32 L297.59 279.34 L298.59 278.37 L299.58 277.4 L300.57 276.45 L301.57 275.5 L302.56 274.58 L303.56 273.67 L304.55 272.78 L305.54 271.91 L306.54 271.07 L307.53 270.26 L308.52 269.48 L309.52 268.73 L310.51 268.02 L311.51 267.36 L312.5 266.73 L313.49 266.16 L314.49 265.63 L315.48 265.15 L316.48 264.73 L317.47 264.36 L318.46 264.05 L319.46 263.8 L320.45 263.61 L321.44 263.48 L322.44 263.41 L323.43 263.41 L324.43 263.46 L325.42 263.59 L326.41 263.77 L327.41 264.01 L328.4 264.31 L329.39 264.67 L330.39 265.09 L331.38 265.56 L332.38 266.08 L333.37 266.65 L334.36 267.27 L335.36 267.93 L336.35 268.64 L337.34 269.38 L338.34 270.15 L339.33 270.96 L340.32 271.8 L341.32 272.66 L342.31 273.55 L343.31 274.45 L344.3 275.38 L345.29 276.32 L346.29 277.28 L347.28 278.24 L348.27 279.21 L349.27 280.19 L350.26 281.17 L351.26 282.16 L352.25 283.14 L353.24 284.13 L354.24 285.11 L355.23 286.08 L356.23 287.05 L357.22 288.01 L358.21 288.97 L359.21 289.91 L360.2 290.84 L361.19 291.76 L362.19 292.67 L363.18 293.56 L364.18 294.44 L365.17 295.31 L366.16 296.15 L367.16 296.99 L368.15 297.8 L369.14 298.6 L370.14 299.38 L371.13 300.15 L372.12 300.89 L373.12 301.62 L374.11 302.33 L375.11 303.02 L376.1 303.7 L377.09 304.35 L378.09 304.99 L379.08 305.6 L380.07 306.2 L381.07 306.78 L382.06 307.35 L383.06 307.89 L384.05 308.42 L385.04 308.93 L386.04 309.42 L387.03 309.9 L388.02 310.36 L389.02 310.8 L390.01 311.23 L391.01 311.64 L392 312.04 L392.99 312.42 L393.99 312.79 L394.98 313.14 L395.98 313.48 L396.97 313.81 L397.96 314.12 L398.96 314.42 L399.95 314.71 L400.94 314.99 L401.94 315.25 L402.93 315.51 L403.93 315.75 L404.92 315.99 L405.91 316.21 L406.91 316.42 L407.9 316.63 L408.89 316.83 L409.89 317.01 L410.88 317.19 L411.88 317.37 L412.87 317.53 L413.86 317.69 L414.86 317.84 L415.85 317.99 L416.84 318.13 L417.84 318.26 L418.83 318.39 L419.82 318.51 L420.82 318.63 L421.81 318.74 L422.81 318.85 L423.8 318.95 L424.79 319.05 L425.79 319.15 L426.78 319.24 L427.77 319.33 L428.77 319.41 L429.76 319.49 L430.76 319.57 L431.75 319.65 L432.74 319.72 L433.74 319.79 L434.73 319.86 L435.73 319.92 L436.72 319.99 L437.71 320.05 L438.71 320.11 L439.7 320.16 L440.69 320.22 L441.69 320.27 L442.68 320.33 L443.68 320.38 L444.67 320.42 L445.66 320.47 L446.66 320.52 L447.65 320.56 L448.64 320.61 L449.64 320.65 L450.63 320.69 L451.62 320.73 L452.62 320.77 L453.61 320.81 L454.61 320.85 L455.6 320.88 L456.59 320.92 L457.59 320.95 L458.58 320.99 L459.57 321.02 L460.57 321.05 L461.56 321.08 L462.56 321.12 L463.55 321.15 L464.54 321.18 L465.54 321.21 L466.53 321.23 L467.52 321.26 L468.52 321.29 L469.51 321.32 L470.51 321.34 L471.5 321.37" fill="none" stroke="#0000ff" stroke-width="3" stroke-dasharray="8.3 2.4"/>
<g fill="#fff" stroke="#000" stroke-width="1.2"><circle cx="74" cy="405.59" r="3.4"/><circle cx="76.84" cy="405.57" r="3.4"/><circle cx="79.68" cy="405.54" r="3.4"/><circle cx="82.52" cy="405.52" r="3.4"/><circle cx="85.36" cy="405.49" r="3.4"/><circle cx="88.2" cy="405.46" r="3.4"/><circle cx="91.04" cy="405.43" r="3.4"/><circle cx="93.88" cy="405.4" r="3.4"/><circle cx="96.71" cy="405.37" r="3.4"/><circle cx="99.55" cy="405.34" r="3.4"/><circle cx="102.39" cy="405.31" r="3.4"/><circle cx="105.23" cy="405.27" r="3.4"/><circle cx="108.07" cy="405.24" r="3.4"/><circle cx="110.91" cy="405.2" r="3.4"/><circle cx="113.75" cy="405.16" r="3.4"/><circle cx="116.59" cy="405.12" r="3.4"/><circle cx="119.43" cy="405.08" r="3.4"/><circle cx="122.27" cy="405.04" r="3.4"/><circle cx="125.11" cy="404.99" r="3.4"/><circle cx="127.95" cy="404.94" r="3.4"/><circle cx="130.79" cy="404.89" r="3.4"/><circle cx="133.62" cy="404.83" r="3.4"/><circle cx="136.46" cy="404.78" r="3.4"/><circle cx="139.3" cy="404.72" r="3.4"/><circle cx="142.14" cy="404.65" r="3.4"/><circle cx="144.98" cy="404.59" r="3.4"/><circle cx="147.82" cy="404.51" r="3.4"/><circle cx="150.66" cy="404.44" r="3.4"/><circle cx="153.5" cy="404.35" r="3.4"/><circle cx="156.34" cy="404.26" r="3.4"/><circle cx="159.18" cy="404.17" r="3.4"/><circle cx="162.02" cy="404.06" r="3.4"/><circle cx="164.86" cy="403.95" r="3.4"/><circle cx="167.7" cy="403.83" r="3.4"/><circle cx="170.54" cy="403.69" r="3.4"/><circle cx="173.38" cy="403.55" r="3.4"/><circle cx="176.21" cy="403.38" r="3.4"/><circle cx="179.05" cy="403.21" r="3.4"/><circle cx="181.89" cy="403.01" r="3.4"/><circle cx="184.73" cy="402.79" r="3.4"/><circle cx="187.57" cy="402.55" r="3.4"/><circle cx="190.41" cy="402.29" r="3.4"/><circle cx="193.25" cy="401.99" r="3.4"/><circle cx="196.09" cy="401.67" r="3.4"/><circle cx="198.93" cy="401.3" r="3.4"/><circle cx="201.77" cy="400.9" r="3.4"/><circle cx="204.61" cy="400.46" r="3.4"/><circle cx="207.45" cy="399.97" r="3.4"/><circle cx="210.29" cy="399.44" r="3.4"/><circle cx="213.12" cy="398.84" r="3.4"/><circle cx="215.96" cy="398.18" r="3.4"/><circle cx="218.8" cy="397.46" r="3.4"/><circle cx="221.64" cy="396.66" r="3.4"/><circle cx="224.48" cy="395.79" r="3.4"/><circle cx="227.32" cy="394.84" r="3.4"/><circle cx="230.16" cy="393.79" r="3.4"/><circle cx="233" cy="392.65" r="3.4"/><circle cx="235.84" cy="391.41" r="3.4"/><circle cx="238.68" cy="390.07" r="3.4"/><circle cx="241.52" cy="388.62" r="3.4"/><circle cx="244.36" cy="387.06" r="3.4"/><circle cx="247.2" cy="385.37" r="3.4"/><circle cx="250.04" cy="383.57" r="3.4"/><circle cx="252.88" cy="381.65" r="3.4"/><circle cx="255.71" cy="379.6" r="3.4"/><circle cx="258.55" cy="377.44" r="3.4"/><circle cx="261.39" cy="375.16" r="3.4"/><circle cx="264.23" cy="372.77" r="3.4"/><circle cx="267.07" cy="370.27" r="3.4"/><circle cx="269.91" cy="367.68" r="3.4"/><circle cx="272.75" cy="365.02" r="3.4"/><circle cx="275.59" cy="362.32" r="3.4"/><circle cx="278.43" cy="359.59" r="3.4"/><circle cx="281.27" cy="356.83" r="3.4"/><circle cx="284.11" cy="354.07" r="3.4"/><circle cx="286.95" cy="351.32" r="3.4"/><circle cx="289.79" cy="348.59" r="3.4"/><circle cx="292.62" cy="345.9" r="3.4"/><circle cx="295.46" cy="343.28" r="3.4"/><circle cx="298.3" cy="340.75" r="3.4"/><circle cx="301.14" cy="338.34" r="3.4"/><circle cx="303.98" cy="336.09" r="3.4"/><circle cx="306.82" cy="334.06" r="3.4"/><circle cx="309.66" cy="332.28" r="3.4"/><circle cx="312.5" cy="330.82" r="3.4"/><circle cx="315.34" cy="329.76" r="3.4"/><circle cx="318.18" cy="329.15" r="3.4"/><circle cx="321.02" cy="329.08" r="3.4"/><circle cx="323.86" cy="329.6" r="3.4"/><circle cx="326.7" cy="330.78" r="3.4"/><circle cx="329.54" cy="332.61" r="3.4"/><circle cx="332.38" cy="335.08" r="3.4"/><circle cx="335.21" cy="338.11" r="3.4"/><circle cx="338.05" cy="341.58" r="3.4"/><circle cx="340.89" cy="345.38" r="3.4"/><circle cx="343.73" cy="349.38" r="3.4"/><circle cx="346.57" cy="353.45" r="3.4"/><circle cx="349.41" cy="357.49" r="3.4"/><circle cx="352.25" cy="361.42" r="3.4"/><circle cx="355.09" cy="365.15" r="3.4"/><circle cx="357.93" cy="368.66" r="3.4"/><circle cx="360.77" cy="371.96" r="3.4"/><circle cx="363.61" cy="375.05" r="3.4"/><circle cx="366.45" cy="377.93" r="3.4"/><circle cx="369.29" cy="380.59" r="3.4"/><circle cx="372.12" cy="383.03" r="3.4"/><circle cx="374.96" cy="385.27" r="3.4"/><circle cx="377.8" cy="387.3" r="3.4"/><circle cx="380.64" cy="389.14" r="3.4"/><circle cx="383.48" cy="390.8" r="3.4"/><circle cx="386.32" cy="392.29" r="3.4"/><circle cx="389.16" cy="393.62" r="3.4"/><circle cx="392" cy="394.81" r="3.4"/><circle cx="394.84" cy="395.87" r="3.4"/><circle cx="397.68" cy="396.8" r="3.4"/><circle cx="400.52" cy="397.64" r="3.4"/><circle cx="403.36" cy="398.37" r="3.4"/><circle cx="406.2" cy="399.02" r="3.4"/><circle cx="409.04" cy="399.6" r="3.4"/><circle cx="411.88" cy="400.11" r="3.4"/><circle cx="414.71" cy="400.56" r="3.4"/><circle cx="417.55" cy="400.96" r="3.4"/><circle cx="420.39" cy="401.32" r="3.4"/><circle cx="423.23" cy="401.64" r="3.4"/><circle cx="426.07" cy="401.92" r="3.4"/><circle cx="428.91" cy="402.17" r="3.4"/><circle cx="431.75" cy="402.4" r="3.4"/><circle cx="434.59" cy="402.61" r="3.4"/><circle cx="437.43" cy="402.79" r="3.4"/><circle cx="440.27" cy="402.97" r="3.4"/><circle cx="443.11" cy="403.12" r="3.4"/><circle cx="445.95" cy="403.27" r="3.4"/><circle cx="448.79" cy="403.4" r="3.4"/><circle cx="451.62" cy="403.52" r="3.4"/><circle cx="454.46" cy="403.64" r="3.4"/><circle cx="457.3" cy="403.75" r="3.4"/><circle cx="460.14" cy="403.85" r="3.4"/><circle cx="462.98" cy="403.94" r="3.4"/><circle cx="465.82" cy="404.03" r="3.4"/><circle cx="468.66" cy="404.12" r="3.4"/><circle cx="471.5" cy="404.2" r="3.4"/></g>
<path d="M74 406.35 L74.99 406.35 L75.99 406.35 L76.98 406.34 L77.97 406.34 L78.97 406.34 L79.96 406.34 L80.96 406.33 L81.95 406.33 L82.94 406.33 L83.94 406.33 L84.93 406.33 L85.92 406.32 L86.92 406.32 L87.91 406.32 L88.91 406.32 L89.9 406.31 L90.89 406.31 L91.89 406.31 L92.88 406.3 L93.88 406.3 L94.87 406.3 L95.86 406.3 L96.86 406.29 L97.85 406.29 L98.84 406.29 L99.84 406.28 L100.83 406.28 L101.83 406.28 L102.82 406.27 L103.81 406.27 L104.81 406.27 L105.8 406.26 L106.79 406.26 L107.79 406.26 L108.78 406.25 L109.78 406.25 L110.77 406.25 L111.76 406.24 L112.76 406.24 L113.75 406.24 L114.74 406.23 L115.74 406.23 L116.73 406.22 L117.72 406.22 L118.72 406.22 L119.71 406.21 L120.71 406.21 L121.7 406.2 L122.69 406.2 L123.69 406.19 L124.68 406.19 L125.67 406.18 L126.67 406.18 L127.66 406.17 L128.66 406.17 L129.65 406.16 L130.64 406.16 L131.64 406.15 L132.63 406.15 L133.62 406.14 L134.62 406.14 L135.61 406.13 L136.61 406.12 L137.6 406.12 L138.59 406.11 L139.59 406.1 L140.58 406.1 L141.57 406.09 L142.57 406.08 L143.56 406.07 L144.56 406.07 L145.55 406.06 L146.54 406.05 L147.54 406.04 L148.53 406.03 L149.53 406.02 L150.52 406.01 L151.51 406 L152.51 405.99 L153.5 405.98 L154.49 405.97 L155.49 405.96 L156.48 405.94 L157.47 405.93 L158.47 405.92 L159.46 405.91 L160.46 405.89 L161.45 405.88 L162.44 405.86 L163.44 405.84 L164.43 405.83 L165.43 405.81 L166.42 405.79 L167.41 405.77 L168.41 405.75 L169.4 405.73 L170.39 405.71 L171.39 405.68 L172.38 405.66 L173.38 405.63 L174.37 405.61 L175.36 405.58 L176.36 405.55 L177.35 405.52 L178.34 405.49 L179.34 405.45 L180.33 405.42 L181.32 405.38 L182.32 405.34 L183.31 405.3 L184.31 405.26 L185.3 405.22 L186.29 405.17 L187.29 405.13 L188.28 405.08 L189.28 405.02 L190.27 404.97 L191.26 404.91 L192.26 404.85 L193.25 404.79 L194.24 404.73 L195.24 404.66 L196.23 404.59 L197.22 404.52 L198.22 404.44 L199.21 404.37 L200.21 404.28 L201.2 404.2 L202.19 404.11 L203.19 404.02 L204.18 403.92 L205.18 403.82 L206.17 403.72 L207.16 403.61 L208.16 403.5 L209.15 403.39 L210.14 403.27 L211.14 403.15 L212.13 403.02 L213.12 402.89 L214.12 402.75 L215.11 402.61 L216.11 402.47 L217.1 402.32 L218.09 402.17 L219.09 402.01 L220.08 401.84 L221.07 401.68 L222.07 401.5 L223.06 401.33 L224.06 401.14 L225.05 400.96 L226.04 400.76 L227.04 400.57 L228.03 400.37 L229.03 400.16 L230.02 399.95 L231.01 399.73 L232.01 399.51 L233 399.29 L233.99 399.06 L234.99 398.82 L235.98 398.58 L236.97 398.34 L237.97 398.09 L238.96 397.84 L239.96 397.58 L240.95 397.32 L241.94 397.06 L242.94 396.79 L243.93 396.52 L244.93 396.25 L245.92 395.97 L246.91 395.69 L247.91 395.41 L248.9 395.13 L249.89 394.84 L250.89 394.55 L251.88 394.26 L252.88 393.97 L253.87 393.67 L254.86 393.38 L255.86 393.08 L256.85 392.79 L257.84 392.5 L258.84 392.2 L259.83 391.91 L260.82 391.61 L261.82 391.32 L262.81 391.03 L263.81 390.75 L264.8 390.46 L265.79 390.18 L266.79 389.91 L267.78 389.63 L268.77 389.36 L269.77 389.1 L270.76 388.84 L271.76 388.59 L272.75 388.34 L273.74 388.1 L274.74 387.86 L275.73 387.64 L276.73 387.42 L277.72 387.21 L278.71 387.01 L279.71 386.82 L280.7 386.63 L281.69 386.46 L282.69 386.3 L283.68 386.15 L284.68 386.01 L285.67 385.88 L286.66 385.77 L287.66 385.66 L288.65 385.57 L289.64 385.49 L290.64 385.43 L291.63 385.38 L292.62 385.34 L293.62 385.31 L294.61 385.3 L295.61 385.3 L296.6 385.32 L297.59 385.35 L298.59 385.39 L299.58 385.44 L300.57 385.51 L301.57 385.59 L302.56 385.69 L303.56 385.79 L304.55 385.91 L305.54 386.04 L306.54 386.18 L307.53 386.33 L308.52 386.5 L309.52 386.67 L310.51 386.86 L311.51 387.05 L312.5 387.25 L313.49 387.47 L314.49 387.69 L315.48 387.91 L316.48 388.15 L317.47 388.39 L318.46 388.64 L319.46 388.9 L320.45 389.16 L321.44 389.42 L322.44 389.69 L323.43 389.97 L324.43 390.24 L325.42 390.53 L326.41 390.81 L327.41 391.1 L328.4 391.39 L329.39 391.68 L330.39 391.97 L331.38 392.27 L332.38 392.56 L333.37 392.86 L334.36 393.15 L335.36 393.44 L336.35 393.74 L337.34 394.03 L338.34 394.32 L339.33 394.61 L340.32 394.9 L341.32 395.19 L342.31 395.47 L343.31 395.75 L344.3 396.03 L345.29 396.31 L346.29 396.58 L347.28 396.85 L348.27 397.12 L349.27 397.38 L350.26 397.64 L351.26 397.9 L352.25 398.15 L353.24 398.39 L354.24 398.64 L355.23 398.87 L356.23 399.11 L357.22 399.34 L358.21 399.56 L359.21 399.78 L360.2 400 L361.19 400.21 L362.19 400.41 L363.18 400.61 L364.18 400.81 L365.17 401 L366.16 401.18 L367.16 401.37 L368.15 401.54 L369.14 401.71 L370.14 401.88 L371.13 402.04 L372.12 402.2 L373.12 402.35 L374.11 402.5 L375.11 402.64 L376.1 402.78 L377.09 402.92 L378.09 403.05 L379.08 403.17 L380.07 403.3 L381.07 403.41 L382.06 403.53 L383.06 403.64 L384.05 403.74 L385.04 403.85 L386.04 403.94 L387.03 404.04 L388.02 404.13 L389.02 404.22 L390.01 404.3 L391.01 404.38 L392 404.46 L392.99 404.54 L393.99 404.61 L394.98 404.68 L395.98 404.74 L396.97 404.81 L397.96 404.87 L398.96 404.93 L399.95 404.98 L400.94 405.04 L401.94 405.09 L402.93 405.14 L403.93 405.18 L404.92 405.23 L405.91 405.27 L406.91 405.31 L407.9 405.35 L408.89 405.39 L409.89 405.43 L410.88 405.46 L411.88 405.49 L412.87 405.53 L413.86 405.56 L414.86 405.58 L415.85 405.61 L416.84 405.64 L417.84 405.66 L418.83 405.69 L419.82 405.71 L420.82 405.73 L421.81 405.75 L422.81 405.77 L423.8 405.79 L424.79 405.81 L425.79 405.83 L426.78 405.85 L427.77 405.86 L428.77 405.88 L429.76 405.89 L430.76 405.91 L431.75 405.92 L432.74 405.94 L433.74 405.95 L434.73 405.96 L435.73 405.97 L436.72 405.98 L437.71 405.99 L438.71 406 L439.7 406.01 L440.69 406.02 L441.69 406.03 L442.68 406.04 L443.68 406.05 L444.67 406.06 L445.66 406.07 L446.66 406.08 L447.65 406.08 L448.64 406.09 L449.64 406.1 L450.63 406.11 L451.62 406.11 L452.62 406.12 L453.61 406.12 L454.61 406.13 L455.6 406.14 L456.59 406.14 L457.59 406.15 L458.58 406.15 L459.57 406.16 L460.57 406.17 L461.56 406.17 L462.56 406.18 L463.55 406.18 L464.54 406.19 L465.54 406.19 L466.53 406.19 L467.52 406.2 L468.52 406.2 L469.51 406.21 L470.51 406.21 L471.5 406.22" fill="none" stroke="#ff0000" stroke-width="3"/>
<path d="M74 405.85 L74.99 405.84 L75.99 405.84 L76.98 405.83 L77.97 405.83 L78.97 405.82 L79.96 405.81 L80.96 405.81 L81.95 405.8 L82.94 405.79 L83.94 405.79 L84.93 405.78 L85.92 405.77 L86.92 405.77 L87.91 405.76 L88.91 405.75 L89.9 405.75 L90.89 405.74 L91.89 405.73 L92.88 405.72 L93.88 405.72 L94.87 405.71 L95.86 405.7 L96.86 405.69 L97.85 405.69 L98.84 405.68 L99.84 405.67 L100.83 405.66 L101.83 405.65 L102.82 405.65 L103.81 405.64 L104.81 405.63 L105.8 405.62 L106.79 405.61 L107.79 405.6 L108.78 405.59 L109.78 405.59 L110.77 405.58 L111.76 405.57 L112.76 405.56 L113.75 405.55 L114.74 405.54 L115.74 405.53 L116.73 405.52 L117.72 405.51 L118.72 405.5 L119.71 405.49 L120.71 405.48 L121.7 405.47 L122.69 405.46 L123.69 405.44 L124.68 405.43 L125.67 405.42 L126.67 405.41 L127.66 405.4 L128.66 405.39 L129.65 405.37 L130.64 405.36 L131.64 405.35 L132.63 405.34 L133.62 405.33 L134.62 405.31 L135.61 405.3 L136.61 405.29 L137.6 405.27 L138.59 405.26 L139.59 405.24 L140.58 405.23 L141.57 405.22 L142.57 405.2 L143.56 405.19 L144.56 405.17 L145.55 405.16 L146.54 405.14 L147.54 405.13 L148.53 405.11 L149.53 405.09 L150.52 405.08 L151.51 405.06 L152.51 405.04 L153.5 405.03 L154.49 405.01 L155.49 404.99 L156.48 404.97 L157.47 404.95 L158.47 404.93 L159.46 404.91 L160.46 404.9 L161.45 404.88 L162.44 404.86 L163.44 404.83 L164.43 404.81 L165.43 404.79 L166.42 404.77 L167.41 404.75 L168.41 404.73 L169.4 404.7 L170.39 404.68 L171.39 404.66 L172.38 404.63 L173.38 404.61 L174.37 404.58 L175.36 404.56 L176.36 404.53 L177.35 404.5 L178.34 404.48 L179.34 404.45 L180.33 404.42 L181.32 404.39 L182.32 404.36 L183.31 404.33 L184.31 404.3 L185.3 404.27 L186.29 404.24 L187.29 404.2 L188.28 404.17 L189.28 404.14 L190.27 404.1 L191.26 404.06 L192.26 404.03 L193.25 403.99 L194.24 403.95 L195.24 403.91 L196.23 403.87 L197.22 403.83 L198.22 403.78 L199.21 403.74 L200.21 403.69 L201.2 403.65 L202.19 403.6 L203.19 403.55 L204.18 403.5 L205.18 403.44 L206.17 403.39 L207.16 403.33 L208.16 403.27 L209.15 403.21 L210.14 403.15 L211.14 403.08 L212.13 403.02 L213.12 402.95 L214.12 402.87 L215.11 402.8 L216.11 402.72 L217.1 402.64 L218.09 402.56 L219.09 402.47 L220.08 402.38 L221.07 402.28 L222.07 402.19 L223.06 402.08 L224.06 401.98 L225.05 401.87 L226.04 401.75 L227.04 401.63 L228.03 401.5 L229.03 401.37 L230.02 401.23 L231.01 401.09 L232.01 400.94 L233 400.78 L233.99 400.62 L234.99 400.45 L235.98 400.27 L236.97 400.08 L237.97 399.89 L238.96 399.69 L239.96 399.47 L240.95 399.25 L241.94 399.02 L242.94 398.78 L243.93 398.53 L244.93 398.27 L245.92 397.99 L246.91 397.71 L247.91 397.41 L248.9 397.1 L249.89 396.78 L250.89 396.44 L251.88 396.09 L252.88 395.73 L253.87 395.35 L254.86 394.96 L255.86 394.55 L256.85 394.12 L257.84 393.68 L258.84 393.23 L259.83 392.76 L260.82 392.27 L261.82 391.76 L262.81 391.24 L263.81 390.7 L264.8 390.14 L265.79 389.57 L266.79 388.97 L267.78 388.36 L268.77 387.73 L269.77 387.08 L270.76 386.41 L271.76 385.73 L272.75 385.02 L273.74 384.3 L274.74 383.56 L275.73 382.81 L276.73 382.03 L277.72 381.24 L278.71 380.43 L279.71 379.6 L280.7 378.76 L281.69 377.9 L282.69 377.03 L283.68 376.14 L284.68 375.24 L285.67 374.33 L286.66 373.4 L287.66 372.46 L288.65 371.52 L289.64 370.56 L290.64 369.6 L291.63 368.63 L292.62 367.65 L293.62 366.67 L294.61 365.69 L295.61 364.71 L296.6 363.74 L297.59 362.76 L298.59 361.79 L299.58 360.83 L300.57 359.88 L301.57 358.94 L302.56 358.02 L303.56 357.11 L304.55 356.23 L305.54 355.37 L306.54 354.53 L307.53 353.72 L308.52 352.95 L309.52 352.2 L310.51 351.5 L311.51 350.84 L312.5 350.22 L313.49 349.64 L314.49 349.12 L315.48 348.64 L316.48 348.22 L317.47 347.85 L318.46 347.54 L319.46 347.29 L320.45 347.1 L321.44 346.98 L322.44 346.91 L323.43 346.91 L324.43 346.96 L325.42 347.08 L326.41 347.27 L327.41 347.51 L328.4 347.81 L329.39 348.17 L330.39 348.58 L331.38 349.05 L332.38 349.57 L333.37 350.14 L334.36 350.75 L335.36 351.41 L336.35 352.11 L337.34 352.85 L338.34 353.62 L339.33 354.42 L340.32 355.25 L341.32 356.11 L342.31 357 L343.31 357.9 L344.3 358.82 L345.29 359.76 L346.29 360.71 L347.28 361.67 L348.27 362.63 L349.27 363.61 L350.26 364.59 L351.26 365.57 L352.25 366.55 L353.24 367.52 L354.24 368.5 L355.23 369.47 L356.23 370.43 L357.22 371.39 L358.21 372.34 L359.21 373.28 L360.2 374.2 L361.19 375.12 L362.19 376.02 L363.18 376.91 L364.18 377.79 L365.17 378.65 L366.16 379.49 L367.16 380.32 L368.15 381.13 L369.14 381.93 L370.14 382.7 L371.13 383.46 L372.12 384.21 L373.12 384.93 L374.11 385.64 L375.11 386.32 L376.1 386.99 L377.09 387.65 L378.09 388.28 L379.08 388.89 L380.07 389.49 L381.07 390.07 L382.06 390.63 L383.06 391.17 L384.05 391.7 L385.04 392.2 L386.04 392.69 L387.03 393.17 L388.02 393.63 L389.02 394.07 L390.01 394.49 L391.01 394.9 L392 395.3 L392.99 395.68 L393.99 396.04 L394.98 396.39 L395.98 396.73 L396.97 397.06 L397.96 397.37 L398.96 397.67 L399.95 397.95 L400.94 398.23 L401.94 398.49 L402.93 398.75 L403.93 398.99 L404.92 399.22 L405.91 399.45 L406.91 399.66 L407.9 399.86 L408.89 400.06 L409.89 400.25 L410.88 400.43 L411.88 400.6 L412.87 400.76 L413.86 400.92 L414.86 401.07 L415.85 401.21 L416.84 401.35 L417.84 401.49 L418.83 401.61 L419.82 401.73 L420.82 401.85 L421.81 401.96 L422.81 402.07 L423.8 402.17 L424.79 402.27 L425.79 402.37 L426.78 402.46 L427.77 402.55 L428.77 402.63 L429.76 402.71 L430.76 402.79 L431.75 402.87 L432.74 402.94 L433.74 403.01 L434.73 403.08 L435.73 403.14 L436.72 403.2 L437.71 403.26 L438.71 403.32 L439.7 403.38 L440.69 403.44 L441.69 403.49 L442.68 403.54 L443.68 403.59 L444.67 403.64 L445.66 403.69 L446.66 403.73 L447.65 403.78 L448.64 403.82 L449.64 403.86 L450.63 403.9 L451.62 403.94 L452.62 403.98 L453.61 404.02 L454.61 404.06 L455.6 404.1 L456.59 404.13 L457.59 404.17 L458.58 404.2 L459.57 404.23 L460.57 404.26 L461.56 404.3 L462.56 404.33 L463.55 404.36 L464.54 404.39 L465.54 404.42 L466.53 404.44 L467.52 404.47 L468.52 404.5 L469.51 404.53 L470.51 404.55 L471.5 404.58" fill="none" stroke="#0000ff" stroke-width="3" stroke-dasharray="8.3 2.4"/>
<g stroke="#000" stroke-width="2" stroke-dasharray="5.4 1.75"><path d="M291 52.2V408M323 52.2V408"/></g>
<g font-weight="bold" fill="#000" font-size="35.6">
<text x="73.5" y="449" text-anchor="middle" textLength="75.5" lengthAdjust="spacingAndGlyphs">1122</text>
<text x="187.07" y="449" text-anchor="middle" textLength="75.5" lengthAdjust="spacingAndGlyphs">1120</text>
<text x="300.64" y="449" text-anchor="middle" textLength="75.5" lengthAdjust="spacingAndGlyphs">1118</text>
<text x="414.21" y="449" text-anchor="middle" textLength="75.5" lengthAdjust="spacingAndGlyphs">1116</text>
</g>
<text x="71" y="487" font-weight="bold" font-size="41.5" textLength="399.5" lengthAdjust="spacingAndGlyphs">Binding Energy (eV)</text>
<text transform="translate(31.3 401) rotate(-90)" x="0" y="0" font-weight="bold" font-size="41.5" textLength="378" lengthAdjust="spacingAndGlyphs">Intensity (arb. unit)</text>
<text x="93.5" y="81" font-size="32">(a)</text>
<text x="143.5" y="82" font-weight="bold" font-size="31.5" textLength="86" lengthAdjust="spacingAndGlyphs" stroke="#000" stroke-width="0.5">Ga 2<tspan font-style="italic">p</tspan></text>
<text x="231.5" y="89" font-weight="bold" font-size="21.5" textLength="28.5" lengthAdjust="spacingAndGlyphs" stroke="#000" stroke-width="0.5">3/2</text>
<text x="226" y="50" font-weight="bold" font-size="31" fill="#ff0000" textLength="77.5" lengthAdjust="spacingAndGlyphs">Ga-O</text>
<text x="313" y="50" font-weight="bold" font-size="31" fill="#0000ff" textLength="75" lengthAdjust="spacingAndGlyphs">Ga-N</text>
<text x="98.5" y="143" font-weight="bold" font-size="32" fill="#ff0000" textLength="87.5" lengthAdjust="spacingAndGlyphs">800ºC</text>
<text x="98.5" y="227" font-weight="bold" font-size="32" fill="#009900" textLength="87.5" lengthAdjust="spacingAndGlyphs">700ºC</text>
<text x="98.5" y="311" font-weight="bold" font-size="32" fill="#0000ff" textLength="87.5" lengthAdjust="spacingAndGlyphs">600ºC</text>
<text x="94" y="382" font-weight="bold" font-size="31">w/o O</text>
<text x="178.5" y="389.5" font-weight="bold" font-size="22">2</text>
<g stroke="#000" stroke-width="5" fill="none" stroke-linecap="square">
<path d="M600 12.5H997V410H600Z"/>
</g>
<g stroke="#000" stroke-width="5">
<path d="M649 15V29M649 408V393.5"/>
<path d="M748.5 15V29M748.5 408V393.5"/>
<path d="M848 15V29M848 408V393.5"/>
<path d="M947.5 15V29M947.5 408V393.5"/>
<path d="M602 376.9H609.7M995 376.9H987"/>
<path d="M602 343.8H609.7M995 343.8H987"/>
<path d="M602 310.7H609.7M995 310.7H987"/>
<path d="M602 277.6H609.7M995 277.6H987"/>
<path d="M602 244.5H616M995 244.5H981"/>
<path d="M602 211.4H609.7M995 211.4H987"/>
<path d="M602 178.3H609.7M995 178.3H987"/>
<path d="M602 145.2H609.7M995 145.2H987"/>
<path d="M602 112.1H609.7M995 112.1H987"/>
<path d="M602 79H616M995 79H981"/>
<path d="M602 45.9H609.7M995 45.9H987"/>
</g>
<clipPath id="cb1"><rect x="-20" y="-12.3" width="40" height="24.6"/></clipPath>
<g transform="translate(694.5 12.2)"><g clip-path="url(#cb1)">
<path d="M-0.5 -15C1 -11.5 2.3 -8 1.9 -5C1.5 -2 -1.1 1 -1.3 4C-1.5 7 -0.6 10 1.6 15" transform="translate(4.25 0)" stroke="#fff" stroke-width="3.2" fill="none"/>
<path d="M-0.5 -15C1 -11.5 2.3 -8 1.9 -5C1.5 -2 -1.1 1 -1.3 4C-1.5 7 -0.6 10 1.6 15" stroke="#000" stroke-width="5.4" fill="none"/>
<path d="M-0.5 -15C1 -11.5 2.3 -8 1.9 -5C1.5 -2 -1.1 1 -1.3 4C-1.5 7 -0.6 10 1.6 15" transform="translate(8.5 0)" stroke="#000" stroke-width="5.4" fill="none"/>
</g></g>
<clipPath id="cb2"><rect x="-20" y="-12.3" width="40" height="24.6"/></clipPath>
<g transform="translate(694.5 408.7)"><g clip-path="url(#cb2)">
<path d="M-0.5 -15C1 -11.5 2.3 -8 1.9 -5C1.5 -2 -1.1 1 -1.3 4C-1.5 7 -0.6 10 1.6 15" transform="translate(4.25 0)" stroke="#fff" stroke-width="3.2" fill="none"/>
<path d="M-0.5 -15C1 -11.5 2.3 -8 1.9 -5C1.5 -2 -1.1 1 -1.3 4C-1.5 7 -0.6 10 1.6 15" stroke="#000" stroke-width="5.4" fill="none"/>
<path d="M-0.5 -15C1 -11.5 2.3 -8 1.9 -5C1.5 -2 -1.1 1 -1.3 4C-1.5 7 -0.6 10 1.6 15" transform="translate(8.5 0)" stroke="#000" stroke-width="5.4" fill="none"/>
</g></g>
<path d="M649 260.3 L749 241 L848.2 190.8 L947.2 86.6" fill="none" stroke="#ff0000" stroke-width="2.6"/>
<g fill="#fff" stroke="#ff0000" stroke-width="3.2"><circle cx="649" cy="260.3" r="10.1"/><circle cx="749" cy="241" r="10.1"/><circle cx="848.2" cy="190.8" r="10.1"/><circle cx="947.2" cy="86.6" r="10.1"/></g>
<g font-weight="bold" font-size="36" text-anchor="end">
<text x="591.5" y="424.5" textLength="49.5" lengthAdjust="spacingAndGlyphs">0.0</text>
<text x="591.5" y="259" textLength="49.5" lengthAdjust="spacingAndGlyphs">0.5</text>
<text x="591.5" y="93.5" textLength="49.5" lengthAdjust="spacingAndGlyphs">1.0</text>
</g>
<g font-weight="bold" font-size="33" text-anchor="middle">
<text x="649" y="446.2" textLength="60" lengthAdjust="spacingAndGlyphs">w/o</text>
<text x="748.5" y="446.2" textLength="57" lengthAdjust="spacingAndGlyphs">600</text>
<text x="848" y="446.2" textLength="57" lengthAdjust="spacingAndGlyphs">700</text>
<text x="947.5" y="446.2" textLength="58" lengthAdjust="spacingAndGlyphs">800</text>
</g>
<text x="612.5" y="488.6" font-weight="bold" font-size="42.5" textLength="33.5" lengthAdjust="spacingAndGlyphs">O</text>
<text x="645" y="497.8" font-weight="bold" font-size="27">2</text>
<text x="662" y="488.6" font-weight="bold" font-size="42.5" textLength="325" lengthAdjust="spacingAndGlyphs">-PDA Temp. (°C)</text>
<text x="630" y="81" font-size="32">(b)</text>
<g transform="translate(525.5 305.5) rotate(-90)" font-weight="bold">
<text x="0" y="0" font-size="42" font-style="italic">I</text>
<text x="13" y="11" font-size="29" textLength="67" lengthAdjust="spacingAndGlyphs">Ga-O</text>
<text x="78" y="0" font-size="42" font-style="italic">/</text>
<text x="90" y="0" font-size="42" font-style="italic">I</text>
<text x="104" y="11" font-size="29" textLength="62" lengthAdjust="spacingAndGlyphs">Ga-N</text>
</g>
</svg></body></html>
